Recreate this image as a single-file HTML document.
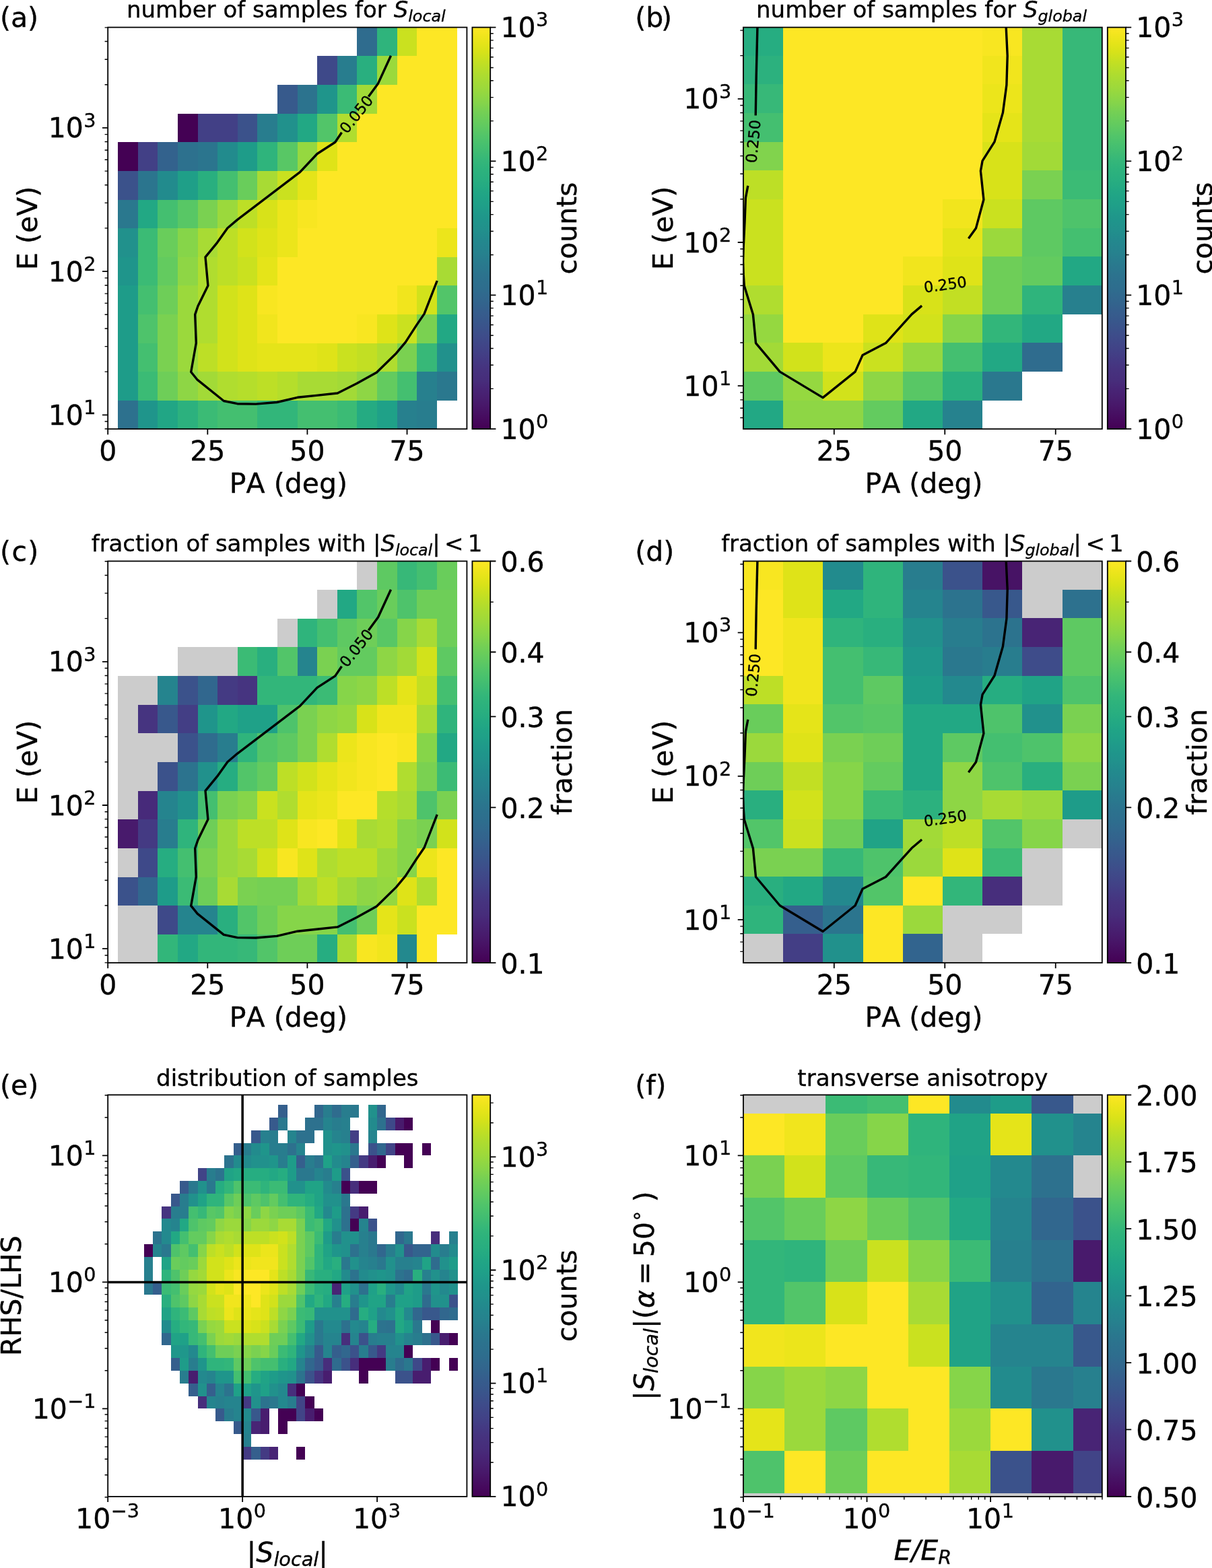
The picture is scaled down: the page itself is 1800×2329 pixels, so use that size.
<!DOCTYPE html>
<html lang="en">
<head>
<meta charset="utf-8">
<title>Figure: sample statistics and transverse anisotropy</title>
<style>
html,body{margin:0;padding:0;background:#fff;}
body{width:1800px;height:2329px;overflow:hidden;}
svg{display:block;}
svg text{font-family:"DejaVu Sans","Liberation Sans",sans-serif;fill:#000;font-kerning:none;stroke:#000;stroke-width:0.35px;stroke-linejoin:round;}
svg text.l{letter-spacing:0;}
</style>
</head>
<body>
<svg width="1800" height="2329" viewBox="0 0 1800 2329">
<rect width="1800" height="2329" fill="#fff"/>
<g id="panel-a">
<rect x="160.2" y="40.6" width="533.2" height="596.6" fill="#fff"/>
<g shape-rendering="crispEdges">
<rect x="530.48" y="40.66" width="29.62" height="42.64" fill="#2f6c8e"/>
<rect x="560.1" y="40.66" width="29.62" height="42.64" fill="#2fb47c"/>
<rect x="589.72" y="40.66" width="29.62" height="42.64" fill="#cae11f"/>
<rect x="619.34" y="40.66" width="59.24" height="42.64" fill="#fde725"/>
<rect x="471.23" y="83.3" width="29.62" height="42.64" fill="#3e4989"/>
<rect x="500.86" y="83.3" width="29.62" height="42.64" fill="#287d8e"/>
<rect x="530.48" y="83.3" width="29.62" height="42.64" fill="#29af7f"/>
<rect x="560.1" y="83.3" width="29.62" height="42.64" fill="#9bd93c"/>
<rect x="589.72" y="83.3" width="88.87" height="42.64" fill="#fde725"/>
<rect x="411.99" y="125.94" width="29.62" height="42.64" fill="#375a8c"/>
<rect x="441.61" y="125.94" width="29.62" height="42.64" fill="#2c738e"/>
<rect x="471.23" y="125.94" width="29.62" height="42.64" fill="#1f958b"/>
<rect x="500.86" y="125.94" width="29.62" height="42.64" fill="#3bbb75"/>
<rect x="530.48" y="125.94" width="29.62" height="42.64" fill="#a2da37"/>
<rect x="560.1" y="125.94" width="118.49" height="42.64" fill="#fde725"/>
<rect x="263.88" y="168.58" width="29.62" height="42.64" fill="#440154"/>
<rect x="293.5" y="168.58" width="59.24" height="42.64" fill="#424086"/>
<rect x="352.74" y="168.58" width="29.62" height="42.64" fill="#3b528b"/>
<rect x="382.37" y="168.58" width="29.62" height="42.64" fill="#287d8e"/>
<rect x="411.99" y="168.58" width="29.62" height="42.64" fill="#21918c"/>
<rect x="441.61" y="168.58" width="29.62" height="42.64" fill="#22a884"/>
<rect x="471.23" y="168.58" width="29.62" height="42.64" fill="#52c569"/>
<rect x="500.86" y="168.58" width="29.62" height="42.64" fill="#b0dd2f"/>
<rect x="530.48" y="168.58" width="148.11" height="42.64" fill="#fde725"/>
<rect x="175.01" y="211.22" width="29.62" height="42.64" fill="#440154"/>
<rect x="204.63" y="211.22" width="29.62" height="42.64" fill="#424086"/>
<rect x="234.26" y="211.22" width="29.62" height="42.64" fill="#33628d"/>
<rect x="263.88" y="211.22" width="29.62" height="42.64" fill="#2d718e"/>
<rect x="293.5" y="211.22" width="29.62" height="42.64" fill="#2b758e"/>
<rect x="323.12" y="211.22" width="29.62" height="42.64" fill="#228b8d"/>
<rect x="352.74" y="211.22" width="29.62" height="42.64" fill="#1e9c89"/>
<rect x="382.37" y="211.22" width="29.62" height="42.64" fill="#2fb47c"/>
<rect x="411.99" y="211.22" width="29.62" height="42.64" fill="#58c765"/>
<rect x="441.61" y="211.22" width="29.62" height="42.64" fill="#95d840"/>
<rect x="471.23" y="211.22" width="29.62" height="42.64" fill="#dfe318"/>
<rect x="500.86" y="211.22" width="177.73" height="42.64" fill="#fde725"/>
<rect x="175.01" y="253.86" width="29.62" height="42.64" fill="#3b528b"/>
<rect x="204.63" y="253.86" width="29.62" height="42.64" fill="#2b758e"/>
<rect x="234.26" y="253.86" width="29.62" height="42.64" fill="#228b8d"/>
<rect x="263.88" y="253.86" width="29.62" height="42.64" fill="#1f9f88"/>
<rect x="293.5" y="253.86" width="29.62" height="42.64" fill="#29af7f"/>
<rect x="323.12" y="253.86" width="29.62" height="42.64" fill="#44bf70"/>
<rect x="352.74" y="253.86" width="29.62" height="42.64" fill="#69cd5b"/>
<rect x="382.37" y="253.86" width="29.62" height="42.64" fill="#a8db34"/>
<rect x="411.99" y="253.86" width="29.62" height="42.64" fill="#cae11f"/>
<rect x="441.61" y="253.86" width="29.62" height="42.64" fill="#e5e419"/>
<rect x="471.23" y="253.86" width="207.36" height="42.64" fill="#fde725"/>
<rect x="175.01" y="296.5" width="29.62" height="42.64" fill="#2a788e"/>
<rect x="204.63" y="296.5" width="29.62" height="42.64" fill="#22a884"/>
<rect x="234.26" y="296.5" width="29.62" height="42.64" fill="#44bf70"/>
<rect x="263.88" y="296.5" width="29.62" height="42.64" fill="#58c765"/>
<rect x="293.5" y="296.5" width="29.62" height="42.64" fill="#7ad151"/>
<rect x="323.12" y="296.5" width="29.62" height="42.64" fill="#9bd93c"/>
<rect x="352.74" y="296.5" width="29.62" height="42.64" fill="#bddf26"/>
<rect x="382.37" y="296.5" width="29.62" height="42.64" fill="#d8e219"/>
<rect x="411.99" y="296.5" width="29.62" height="42.64" fill="#ece51b"/>
<rect x="441.61" y="296.5" width="29.62" height="42.64" fill="#f8e621"/>
<rect x="471.23" y="296.5" width="207.36" height="42.64" fill="#fde725"/>
<rect x="175.01" y="339.14" width="29.62" height="42.64" fill="#21918c"/>
<rect x="204.63" y="339.14" width="29.62" height="42.64" fill="#3bbb75"/>
<rect x="234.26" y="339.14" width="29.62" height="42.64" fill="#69cd5b"/>
<rect x="263.88" y="339.14" width="29.62" height="42.64" fill="#86d549"/>
<rect x="293.5" y="339.14" width="29.62" height="42.64" fill="#a8db34"/>
<rect x="323.12" y="339.14" width="29.62" height="42.64" fill="#bddf26"/>
<rect x="352.74" y="339.14" width="29.62" height="42.64" fill="#d2e21b"/>
<rect x="382.37" y="339.14" width="29.62" height="42.64" fill="#dfe318"/>
<rect x="411.99" y="339.14" width="29.62" height="42.64" fill="#ece51b"/>
<rect x="441.61" y="339.14" width="207.36" height="42.64" fill="#fde725"/>
<rect x="648.97" y="339.14" width="29.62" height="42.64" fill="#ece51b"/>
<rect x="175.01" y="381.78" width="29.62" height="42.64" fill="#1f958b"/>
<rect x="204.63" y="381.78" width="29.62" height="42.64" fill="#3bbb75"/>
<rect x="234.26" y="381.78" width="29.62" height="42.64" fill="#63cb5f"/>
<rect x="263.88" y="381.78" width="29.62" height="42.64" fill="#8ed645"/>
<rect x="293.5" y="381.78" width="29.62" height="42.64" fill="#b0dd2f"/>
<rect x="323.12" y="381.78" width="29.62" height="42.64" fill="#bddf26"/>
<rect x="352.74" y="381.78" width="29.62" height="42.64" fill="#cae11f"/>
<rect x="382.37" y="381.78" width="29.62" height="42.64" fill="#e5e419"/>
<rect x="411.99" y="381.78" width="236.98" height="42.64" fill="#fde725"/>
<rect x="648.97" y="381.78" width="29.62" height="42.64" fill="#a8db34"/>
<rect x="175.01" y="424.42" width="29.62" height="42.64" fill="#1e9c89"/>
<rect x="204.63" y="424.42" width="29.62" height="42.64" fill="#44bf70"/>
<rect x="234.26" y="424.42" width="29.62" height="42.64" fill="#6ece58"/>
<rect x="263.88" y="424.42" width="29.62" height="42.64" fill="#9bd93c"/>
<rect x="293.5" y="424.42" width="29.62" height="42.64" fill="#b0dd2f"/>
<rect x="323.12" y="424.42" width="29.62" height="42.64" fill="#d2e21b"/>
<rect x="352.74" y="424.42" width="29.62" height="42.64" fill="#dfe318"/>
<rect x="382.37" y="424.42" width="29.62" height="42.64" fill="#f8e621"/>
<rect x="411.99" y="424.42" width="177.73" height="42.64" fill="#fde725"/>
<rect x="589.72" y="424.42" width="29.62" height="42.64" fill="#f1e51d"/>
<rect x="619.34" y="424.42" width="29.62" height="42.64" fill="#d2e21b"/>
<rect x="648.97" y="424.42" width="29.62" height="42.64" fill="#52c569"/>
<rect x="175.01" y="467.06" width="29.62" height="42.64" fill="#1e9c89"/>
<rect x="204.63" y="467.06" width="29.62" height="42.64" fill="#4ec36b"/>
<rect x="234.26" y="467.06" width="29.62" height="42.64" fill="#7ad151"/>
<rect x="263.88" y="467.06" width="29.62" height="42.64" fill="#9bd93c"/>
<rect x="293.5" y="467.06" width="29.62" height="42.64" fill="#b0dd2f"/>
<rect x="323.12" y="467.06" width="29.62" height="42.64" fill="#d2e21b"/>
<rect x="352.74" y="467.06" width="29.62" height="42.64" fill="#dfe318"/>
<rect x="382.37" y="467.06" width="29.62" height="42.64" fill="#f1e51d"/>
<rect x="411.99" y="467.06" width="118.49" height="42.64" fill="#fde725"/>
<rect x="530.48" y="467.06" width="29.62" height="42.64" fill="#f8e621"/>
<rect x="560.1" y="467.06" width="29.62" height="42.64" fill="#dfe318"/>
<rect x="589.72" y="467.06" width="29.62" height="42.64" fill="#cae11f"/>
<rect x="619.34" y="467.06" width="29.62" height="42.64" fill="#7ad151"/>
<rect x="648.97" y="467.06" width="29.62" height="42.64" fill="#22a884"/>
<rect x="175.01" y="509.7" width="29.62" height="42.64" fill="#1e9c89"/>
<rect x="204.63" y="509.7" width="29.62" height="42.64" fill="#44bf70"/>
<rect x="234.26" y="509.7" width="29.62" height="42.64" fill="#7ad151"/>
<rect x="263.88" y="509.7" width="29.62" height="42.64" fill="#9bd93c"/>
<rect x="293.5" y="509.7" width="29.62" height="42.64" fill="#bddf26"/>
<rect x="323.12" y="509.7" width="29.62" height="42.64" fill="#d2e21b"/>
<rect x="352.74" y="509.7" width="29.62" height="42.64" fill="#dfe318"/>
<rect x="382.37" y="509.7" width="88.87" height="42.64" fill="#e5e419"/>
<rect x="471.23" y="509.7" width="29.62" height="42.64" fill="#dfe318"/>
<rect x="500.86" y="509.7" width="29.62" height="42.64" fill="#cae11f"/>
<rect x="530.48" y="509.7" width="29.62" height="42.64" fill="#c2df23"/>
<rect x="560.1" y="509.7" width="29.62" height="42.64" fill="#b0dd2f"/>
<rect x="589.72" y="509.7" width="29.62" height="42.64" fill="#7ad151"/>
<rect x="619.34" y="509.7" width="29.62" height="42.64" fill="#37b878"/>
<rect x="648.97" y="509.7" width="29.62" height="42.64" fill="#21918c"/>
<rect x="175.01" y="552.34" width="29.62" height="42.64" fill="#1e9c89"/>
<rect x="204.63" y="552.34" width="29.62" height="42.64" fill="#3bbb75"/>
<rect x="234.26" y="552.34" width="29.62" height="42.64" fill="#6ece58"/>
<rect x="263.88" y="552.34" width="29.62" height="42.64" fill="#8ed645"/>
<rect x="293.5" y="552.34" width="29.62" height="42.64" fill="#a2da37"/>
<rect x="323.12" y="552.34" width="29.62" height="42.64" fill="#b0dd2f"/>
<rect x="352.74" y="552.34" width="29.62" height="42.64" fill="#b5de2b"/>
<rect x="382.37" y="552.34" width="29.62" height="42.64" fill="#bddf26"/>
<rect x="411.99" y="552.34" width="29.62" height="42.64" fill="#b5de2b"/>
<rect x="441.61" y="552.34" width="59.24" height="42.64" fill="#a8db34"/>
<rect x="500.86" y="552.34" width="29.62" height="42.64" fill="#a2da37"/>
<rect x="530.48" y="552.34" width="29.62" height="42.64" fill="#8ed645"/>
<rect x="560.1" y="552.34" width="29.62" height="42.64" fill="#63cb5f"/>
<rect x="589.72" y="552.34" width="29.62" height="42.64" fill="#44bf70"/>
<rect x="619.34" y="552.34" width="29.62" height="42.64" fill="#27808e"/>
<rect x="648.97" y="552.34" width="29.62" height="42.64" fill="#2a788e"/>
<rect x="175.01" y="594.98" width="29.62" height="42.22" fill="#2d718e"/>
<rect x="204.63" y="594.98" width="29.62" height="42.22" fill="#1f958b"/>
<rect x="234.26" y="594.98" width="29.62" height="42.22" fill="#21a685"/>
<rect x="263.88" y="594.98" width="29.62" height="42.22" fill="#2cb17e"/>
<rect x="293.5" y="594.98" width="29.62" height="42.22" fill="#3bbb75"/>
<rect x="323.12" y="594.98" width="59.24" height="42.22" fill="#44bf70"/>
<rect x="382.37" y="594.98" width="59.24" height="42.22" fill="#32b67a"/>
<rect x="441.61" y="594.98" width="59.24" height="42.22" fill="#44bf70"/>
<rect x="500.86" y="594.98" width="29.62" height="42.22" fill="#3bbb75"/>
<rect x="530.48" y="594.98" width="29.62" height="42.22" fill="#25ab82"/>
<rect x="560.1" y="594.98" width="29.62" height="42.22" fill="#1fa188"/>
<rect x="589.72" y="594.98" width="29.62" height="42.22" fill="#27808e"/>
<rect x="619.34" y="594.98" width="29.62" height="42.22" fill="#287d8e"/>
</g>
<clipPath id="clip-a"><rect x="160.2" y="40.6" width="533.2" height="596.6"/></clipPath>
<g clip-path="url(#clip-a)">
<path d="M580.5 82.8L561.6 123.9L547.3 143.4" stroke="#000" stroke-width="3.4" fill="none" stroke-linejoin="round" stroke-linecap="butt"/>
<path d="M507.5 196.8L497.7 211.2L471 228.5L445.5 255.7L352.5 326.4L337.9 338.8L322.6 360.3L305 381.8L308.9 424.2L293.9 454.8L289.7 467.1L291.3 509.5L283.7 552.5L293.2 564.2L332.3 595.5L352.5 599.7L379.9 600.1L411.2 597.5L441.8 590.3L470 587.4L501.3 584L530 569.6L559.3 553.3L588.5 524.7L602.2 508.3L618.5 483.1L630.1 466.1L649.2 417" stroke="#000" stroke-width="3.4" fill="none" stroke-linejoin="round" stroke-linecap="butt"/>
</g>
<text transform="translate(529 169.5) rotate(-51.3)" y="8.18" font-size="22.4" text-anchor="middle">0.050</text>
<rect x="160.2" y="40.6" width="533.2" height="596.6" fill="none" stroke="#000" stroke-width="1.8"/>
<path d="M160.2 637.2v8.2M308.31 637.2v8.2M456.42 637.2v8.2M604.53 637.2v8.2" stroke="#000" stroke-width="1.8" fill="none"/>
<text x="160.2" y="684.4" font-size="41" text-anchor="middle">0</text>
<text x="308.31" y="684.4" font-size="41" text-anchor="middle">25</text>
<text x="456.42" y="684.4" font-size="41" text-anchor="middle">50</text>
<text x="604.53" y="684.4" font-size="41" text-anchor="middle">75</text>
<path d="M160.2 616.3h-8.2M160.2 403.1h-8.2M160.2 189.9h-8.2" stroke="#000" stroke-width="1.8" fill="none"/>
<path d="M160.2 636.96h-4.6M160.2 626.06h-4.6M160.2 552.12h-4.6M160.2 514.58h-4.6M160.2 487.94h-4.6M160.2 467.28h-4.6M160.2 450.4h-4.6M160.2 436.13h-4.6M160.2 423.76h-4.6M160.2 412.86h-4.6M160.2 338.92h-4.6M160.2 301.38h-4.6M160.2 274.74h-4.6M160.2 254.08h-4.6M160.2 237.2h-4.6M160.2 222.93h-4.6M160.2 210.56h-4.6M160.2 199.66h-4.6M160.2 125.72h-4.6M160.2 88.18h-4.6M160.2 61.54h-4.6M160.2 40.88h-4.6" stroke="#000" stroke-width="1.4" fill="none"/>
<text x="142.6" y="630.8" font-size="41" text-anchor="end">10<tspan dy="-15.8" dx="0.5" font-size="28.7">1</tspan></text>
<text x="142.6" y="417.6" font-size="41" text-anchor="end">10<tspan dy="-15.8" dx="0.5" font-size="28.7">2</tspan></text>
<text x="142.6" y="204.4" font-size="41" text-anchor="end">10<tspan dy="-15.8" dx="0.5" font-size="28.7">3</tspan></text>
<text x="428.4" y="732" font-size="41" text-anchor="middle" class="l">PA (deg)</text>
<text transform="translate(54.8 338.9) rotate(-90)" font-size="41" text-anchor="middle">E (eV)</text>
<text x="424.8" y="26.1" font-size="34" text-anchor="middle">number of samples for <tspan font-style="italic">S</tspan><tspan font-style="italic" font-size="23.8" dy="6">local</tspan></text>
<text x="0" y="40.1" font-size="41" text-anchor="start" class="l">(a)</text>
<linearGradient id="ga" x1="0" y1="0" x2="0" y2="1"><stop offset="0" stop-color="#fde725"/><stop offset="0.02" stop-color="#f1e51d"/><stop offset="0.04" stop-color="#e5e419"/><stop offset="0.06" stop-color="#d8e219"/><stop offset="0.08" stop-color="#c8e020"/><stop offset="0.1" stop-color="#bade28"/><stop offset="0.12" stop-color="#addc30"/><stop offset="0.15" stop-color="#9dd93b"/><stop offset="0.17" stop-color="#90d743"/><stop offset="0.19" stop-color="#84d44b"/><stop offset="0.21" stop-color="#75d054"/><stop offset="0.23" stop-color="#69cd5b"/><stop offset="0.25" stop-color="#5ec962"/><stop offset="0.27" stop-color="#52c569"/><stop offset="0.29" stop-color="#48c16e"/><stop offset="0.31" stop-color="#3fbc73"/><stop offset="0.33" stop-color="#35b779"/><stop offset="0.35" stop-color="#2eb37c"/><stop offset="0.38" stop-color="#28ae80"/><stop offset="0.4" stop-color="#23a983"/><stop offset="0.42" stop-color="#20a486"/><stop offset="0.44" stop-color="#1fa088"/><stop offset="0.46" stop-color="#1f9a8a"/><stop offset="0.48" stop-color="#1f958b"/><stop offset="0.5" stop-color="#21918c"/><stop offset="0.52" stop-color="#228b8d"/><stop offset="0.54" stop-color="#24868e"/><stop offset="0.56" stop-color="#26828e"/><stop offset="0.58" stop-color="#287c8e"/><stop offset="0.6" stop-color="#2a778e"/><stop offset="0.62" stop-color="#2c728e"/><stop offset="0.65" stop-color="#2e6d8e"/><stop offset="0.67" stop-color="#31688e"/><stop offset="0.69" stop-color="#33638d"/><stop offset="0.71" stop-color="#365d8d"/><stop offset="0.73" stop-color="#38588c"/><stop offset="0.75" stop-color="#3b528b"/><stop offset="0.77" stop-color="#3e4c8a"/><stop offset="0.79" stop-color="#404688"/><stop offset="0.81" stop-color="#424086"/><stop offset="0.83" stop-color="#443983"/><stop offset="0.85" stop-color="#46337f"/><stop offset="0.88" stop-color="#472d7b"/><stop offset="0.9" stop-color="#482576"/><stop offset="0.92" stop-color="#481f70"/><stop offset="0.94" stop-color="#48186a"/><stop offset="0.96" stop-color="#471063"/><stop offset="0.98" stop-color="#46085c"/><stop offset="1" stop-color="#440154"/></linearGradient>
<rect x="701.4" y="40.6" width="26.8" height="596.6" fill="url(#ga)"/>
<rect x="701.4" y="40.6" width="26.8" height="596.6" fill="none" stroke="#000" stroke-width="1.8"/>
<path d="M728.2 637.2h8.2M728.2 438.33h8.2M728.2 239.47h8.2M728.2 40.6h8.2" stroke="#000" stroke-width="1.8" fill="none"/>
<path d="M728.2 577.34h4.6M728.2 542.32h4.6M728.2 517.47h4.6M728.2 498.2h4.6M728.2 482.45h4.6M728.2 469.14h4.6M728.2 457.61h4.6M728.2 447.43h4.6M728.2 378.47h4.6M728.2 343.45h4.6M728.2 318.6h4.6M728.2 299.33h4.6M728.2 283.58h4.6M728.2 270.27h4.6M728.2 258.74h4.6M728.2 248.57h4.6M728.2 179.6h4.6M728.2 144.58h4.6M728.2 119.74h4.6M728.2 100.46h4.6M728.2 84.72h4.6M728.2 71.4h4.6M728.2 59.87h4.6M728.2 49.7h4.6" stroke="#000" stroke-width="1.4" fill="none"/>
<text x="743.4" y="651.7" font-size="41" text-anchor="start">10<tspan dy="-15.8" dx="0.5" font-size="28.7">0</tspan></text>
<text x="743.4" y="452.83" font-size="41" text-anchor="start">10<tspan dy="-15.8" dx="0.5" font-size="28.7">1</tspan></text>
<text x="743.4" y="253.97" font-size="41" text-anchor="start">10<tspan dy="-15.8" dx="0.5" font-size="28.7">2</tspan></text>
<text x="743.4" y="55.1" font-size="41" text-anchor="start">10<tspan dy="-15.8" dx="0.5" font-size="28.7">3</tspan></text>
<text transform="translate(856 338.9) rotate(-90)" font-size="41" text-anchor="middle">counts</text>
</g>
<g id="panel-b">
<rect x="1103.9" y="40.6" width="532.9" height="596.6" fill="#fff"/>
<g shape-rendering="crispEdges">
<rect x="1103.9" y="40.6" width="59.21" height="42.24" fill="#26ad81"/>
<rect x="1163.11" y="40.6" width="296.06" height="42.24" fill="#fde725"/>
<rect x="1459.17" y="40.6" width="59.21" height="42.24" fill="#f8e621"/>
<rect x="1518.38" y="40.6" width="59.21" height="42.24" fill="#a8db34"/>
<rect x="1577.59" y="40.6" width="59.21" height="42.24" fill="#37b878"/>
<rect x="1103.9" y="82.84" width="59.21" height="42.64" fill="#2cb17e"/>
<rect x="1163.11" y="82.84" width="296.06" height="42.64" fill="#fde725"/>
<rect x="1459.17" y="82.84" width="59.21" height="42.64" fill="#f1e51d"/>
<rect x="1518.38" y="82.84" width="59.21" height="42.64" fill="#a8db34"/>
<rect x="1577.59" y="82.84" width="59.21" height="42.64" fill="#37b878"/>
<rect x="1103.9" y="125.48" width="59.21" height="42.64" fill="#37b878"/>
<rect x="1163.11" y="125.48" width="296.06" height="42.64" fill="#fde725"/>
<rect x="1459.17" y="125.48" width="59.21" height="42.64" fill="#ece51b"/>
<rect x="1518.38" y="125.48" width="59.21" height="42.64" fill="#a8db34"/>
<rect x="1577.59" y="125.48" width="59.21" height="42.64" fill="#37b878"/>
<rect x="1103.9" y="168.12" width="59.21" height="42.64" fill="#44bf70"/>
<rect x="1163.11" y="168.12" width="296.06" height="42.64" fill="#fde725"/>
<rect x="1459.17" y="168.12" width="59.21" height="42.64" fill="#e5e419"/>
<rect x="1518.38" y="168.12" width="59.21" height="42.64" fill="#a8db34"/>
<rect x="1577.59" y="168.12" width="59.21" height="42.64" fill="#37b878"/>
<rect x="1103.9" y="210.76" width="59.21" height="42.64" fill="#81d34d"/>
<rect x="1163.11" y="210.76" width="296.06" height="42.64" fill="#fde725"/>
<rect x="1459.17" y="210.76" width="59.21" height="42.64" fill="#d8e219"/>
<rect x="1518.38" y="210.76" width="59.21" height="42.64" fill="#a2da37"/>
<rect x="1577.59" y="210.76" width="59.21" height="42.64" fill="#37b878"/>
<rect x="1103.9" y="253.4" width="59.21" height="42.64" fill="#bddf26"/>
<rect x="1163.11" y="253.4" width="296.06" height="42.64" fill="#fde725"/>
<rect x="1459.17" y="253.4" width="59.21" height="42.64" fill="#d8e219"/>
<rect x="1518.38" y="253.4" width="59.21" height="42.64" fill="#7ad151"/>
<rect x="1577.59" y="253.4" width="59.21" height="42.64" fill="#3bbb75"/>
<rect x="1103.9" y="296.04" width="59.21" height="42.64" fill="#cae11f"/>
<rect x="1163.11" y="296.04" width="236.84" height="42.64" fill="#fde725"/>
<rect x="1399.96" y="296.04" width="59.21" height="42.64" fill="#f1e51d"/>
<rect x="1459.17" y="296.04" width="59.21" height="42.64" fill="#cae11f"/>
<rect x="1518.38" y="296.04" width="59.21" height="42.64" fill="#5ec962"/>
<rect x="1577.59" y="296.04" width="59.21" height="42.64" fill="#4ec36b"/>
<rect x="1103.9" y="338.68" width="59.21" height="42.64" fill="#cae11f"/>
<rect x="1163.11" y="338.68" width="236.84" height="42.64" fill="#fde725"/>
<rect x="1399.96" y="338.68" width="59.21" height="42.64" fill="#e5e419"/>
<rect x="1459.17" y="338.68" width="59.21" height="42.64" fill="#9bd93c"/>
<rect x="1518.38" y="338.68" width="59.21" height="42.64" fill="#5ec962"/>
<rect x="1577.59" y="338.68" width="59.21" height="42.64" fill="#44bf70"/>
<rect x="1103.9" y="381.32" width="59.21" height="42.64" fill="#cae11f"/>
<rect x="1163.11" y="381.32" width="177.63" height="42.64" fill="#fde725"/>
<rect x="1340.74" y="381.32" width="59.21" height="42.64" fill="#f1e51d"/>
<rect x="1399.96" y="381.32" width="59.21" height="42.64" fill="#dfe318"/>
<rect x="1459.17" y="381.32" width="59.21" height="42.64" fill="#6ece58"/>
<rect x="1518.38" y="381.32" width="59.21" height="42.64" fill="#63cb5f"/>
<rect x="1577.59" y="381.32" width="59.21" height="42.64" fill="#22a884"/>
<rect x="1103.9" y="423.96" width="59.21" height="42.64" fill="#b0dd2f"/>
<rect x="1163.11" y="423.96" width="177.63" height="42.64" fill="#fde725"/>
<rect x="1340.74" y="423.96" width="59.21" height="42.64" fill="#d8e219"/>
<rect x="1399.96" y="423.96" width="59.21" height="42.64" fill="#c2df23"/>
<rect x="1459.17" y="423.96" width="59.21" height="42.64" fill="#6ece58"/>
<rect x="1518.38" y="423.96" width="59.21" height="42.64" fill="#2fb47c"/>
<rect x="1577.59" y="423.96" width="59.21" height="42.64" fill="#27808e"/>
<rect x="1103.9" y="466.6" width="59.21" height="42.64" fill="#95d840"/>
<rect x="1163.11" y="466.6" width="118.42" height="42.64" fill="#fde725"/>
<rect x="1281.53" y="466.6" width="59.21" height="42.64" fill="#dfe318"/>
<rect x="1340.74" y="466.6" width="59.21" height="42.64" fill="#d2e21b"/>
<rect x="1399.96" y="466.6" width="59.21" height="42.64" fill="#86d549"/>
<rect x="1459.17" y="466.6" width="59.21" height="42.64" fill="#32b67a"/>
<rect x="1518.38" y="466.6" width="59.21" height="42.64" fill="#22a884"/>
<rect x="1103.9" y="509.24" width="59.21" height="42.64" fill="#a2da37"/>
<rect x="1163.11" y="509.24" width="59.21" height="42.64" fill="#d2e21b"/>
<rect x="1222.32" y="509.24" width="59.21" height="42.64" fill="#ece51b"/>
<rect x="1281.53" y="509.24" width="59.21" height="42.64" fill="#cae11f"/>
<rect x="1340.74" y="509.24" width="59.21" height="42.64" fill="#95d840"/>
<rect x="1399.96" y="509.24" width="59.21" height="42.64" fill="#44bf70"/>
<rect x="1459.17" y="509.24" width="59.21" height="42.64" fill="#22a884"/>
<rect x="1518.38" y="509.24" width="59.21" height="42.64" fill="#2f6c8e"/>
<rect x="1103.9" y="551.88" width="59.21" height="42.64" fill="#5ec962"/>
<rect x="1163.11" y="551.88" width="59.21" height="42.64" fill="#95d840"/>
<rect x="1222.32" y="551.88" width="59.21" height="42.64" fill="#d2e21b"/>
<rect x="1281.53" y="551.88" width="59.21" height="42.64" fill="#8ed645"/>
<rect x="1340.74" y="551.88" width="59.21" height="42.64" fill="#58c765"/>
<rect x="1399.96" y="551.88" width="59.21" height="42.64" fill="#29af7f"/>
<rect x="1459.17" y="551.88" width="59.21" height="42.64" fill="#2a788e"/>
<rect x="1103.9" y="594.52" width="59.21" height="42.64" fill="#22a884"/>
<rect x="1163.11" y="594.52" width="118.42" height="42.64" fill="#8ed645"/>
<rect x="1281.53" y="594.52" width="59.21" height="42.64" fill="#63cb5f"/>
<rect x="1340.74" y="594.52" width="59.21" height="42.64" fill="#22a884"/>
<rect x="1399.96" y="594.52" width="59.21" height="42.64" fill="#26828e"/>
</g>
<clipPath id="clip-b"><rect x="1103.9" y="40.6" width="532.9" height="596.6"/></clipPath>
<g clip-path="url(#clip-b)">
<path d="M1124.9 40.6L1123.2 112.4L1122.2 171.5" stroke="#000" stroke-width="3.4" fill="none" stroke-linejoin="round" stroke-linecap="butt"/>
<path d="M1110.8 275.9L1107.4 293.7L1106 330L1104.2 366.7L1103.6 388L1104.2 407.9L1105.3 424.4L1118.4 467L1122.5 509.6L1158.2 552.1L1222.1 590.6L1270.1 552.1L1281.1 527.4L1315.5 509.6L1354 466.9L1369.1 454.1" stroke="#000" stroke-width="3.4" fill="none" stroke-linejoin="round" stroke-linecap="butt"/>
<path d="M1438.4 354.3L1449.4 339.1L1460.9 296.5L1456.4 253.9L1459.1 238.8L1477 210.6L1489.4 167.4L1494.9 126.2L1496.2 82.9L1494.2 40.6" stroke="#000" stroke-width="3.4" fill="none" stroke-linejoin="round" stroke-linecap="butt"/>
</g>
<text transform="translate(1118.4 210) rotate(-84.3)" y="8.18" font-size="22.4" text-anchor="middle">0.250</text>
<text transform="translate(1403.8 422.3) rotate(-8)" y="8.18" font-size="22.4" text-anchor="middle">0.250</text>
<rect x="1103.9" y="40.6" width="532.9" height="596.6" fill="none" stroke="#000" stroke-width="1.8"/>
<path d="M1238.77 637.2v8.2M1403.25 637.2v8.2M1567.72 637.2v8.2" stroke="#000" stroke-width="1.8" fill="none"/>
<text x="1238.77" y="684.4" font-size="41" text-anchor="middle">25</text>
<text x="1403.25" y="684.4" font-size="41" text-anchor="middle">50</text>
<text x="1567.72" y="684.4" font-size="41" text-anchor="middle">75</text>
<path d="M1103.9 573.2h-8.2M1103.9 360h-8.2M1103.9 146.8h-8.2" stroke="#000" stroke-width="1.8" fill="none"/>
<path d="M1103.9 620.5h-4.6M1103.9 606.23h-4.6M1103.9 593.86h-4.6M1103.9 582.96h-4.6M1103.9 509.02h-4.6M1103.9 471.48h-4.6M1103.9 444.84h-4.6M1103.9 424.18h-4.6M1103.9 407.3h-4.6M1103.9 393.03h-4.6M1103.9 380.66h-4.6M1103.9 369.76h-4.6M1103.9 295.82h-4.6M1103.9 258.28h-4.6M1103.9 231.64h-4.6M1103.9 210.98h-4.6M1103.9 194.1h-4.6M1103.9 179.83h-4.6M1103.9 167.46h-4.6M1103.9 156.56h-4.6M1103.9 82.62h-4.6M1103.9 45.08h-4.6" stroke="#000" stroke-width="1.4" fill="none"/>
<text x="1086.3" y="587.7" font-size="41" text-anchor="end">10<tspan dy="-15.8" dx="0.5" font-size="28.7">1</tspan></text>
<text x="1086.3" y="374.5" font-size="41" text-anchor="end">10<tspan dy="-15.8" dx="0.5" font-size="28.7">2</tspan></text>
<text x="1086.3" y="161.3" font-size="41" text-anchor="end">10<tspan dy="-15.8" dx="0.5" font-size="28.7">3</tspan></text>
<text x="1371.95" y="732" font-size="41" text-anchor="middle" class="l">PA (deg)</text>
<text transform="translate(999 338.9) rotate(-90)" font-size="41" text-anchor="middle">E (eV)</text>
<text x="1368.55" y="26.1" font-size="34" text-anchor="middle">number of samples for <tspan font-style="italic">S</tspan><tspan font-style="italic" font-size="23.8" dy="6">global</tspan></text>
<text x="943.2" y="40.1" font-size="41" text-anchor="start" class="l">(b<tspan dx="-3.3">)</tspan></text>
<linearGradient id="gb" x1="0" y1="0" x2="0" y2="1"><stop offset="0" stop-color="#fde725"/><stop offset="0.02" stop-color="#f1e51d"/><stop offset="0.04" stop-color="#e5e419"/><stop offset="0.06" stop-color="#d8e219"/><stop offset="0.08" stop-color="#c8e020"/><stop offset="0.1" stop-color="#bade28"/><stop offset="0.12" stop-color="#addc30"/><stop offset="0.15" stop-color="#9dd93b"/><stop offset="0.17" stop-color="#90d743"/><stop offset="0.19" stop-color="#84d44b"/><stop offset="0.21" stop-color="#75d054"/><stop offset="0.23" stop-color="#69cd5b"/><stop offset="0.25" stop-color="#5ec962"/><stop offset="0.27" stop-color="#52c569"/><stop offset="0.29" stop-color="#48c16e"/><stop offset="0.31" stop-color="#3fbc73"/><stop offset="0.33" stop-color="#35b779"/><stop offset="0.35" stop-color="#2eb37c"/><stop offset="0.38" stop-color="#28ae80"/><stop offset="0.4" stop-color="#23a983"/><stop offset="0.42" stop-color="#20a486"/><stop offset="0.44" stop-color="#1fa088"/><stop offset="0.46" stop-color="#1f9a8a"/><stop offset="0.48" stop-color="#1f958b"/><stop offset="0.5" stop-color="#21918c"/><stop offset="0.52" stop-color="#228b8d"/><stop offset="0.54" stop-color="#24868e"/><stop offset="0.56" stop-color="#26828e"/><stop offset="0.58" stop-color="#287c8e"/><stop offset="0.6" stop-color="#2a778e"/><stop offset="0.62" stop-color="#2c728e"/><stop offset="0.65" stop-color="#2e6d8e"/><stop offset="0.67" stop-color="#31688e"/><stop offset="0.69" stop-color="#33638d"/><stop offset="0.71" stop-color="#365d8d"/><stop offset="0.73" stop-color="#38588c"/><stop offset="0.75" stop-color="#3b528b"/><stop offset="0.77" stop-color="#3e4c8a"/><stop offset="0.79" stop-color="#404688"/><stop offset="0.81" stop-color="#424086"/><stop offset="0.83" stop-color="#443983"/><stop offset="0.85" stop-color="#46337f"/><stop offset="0.88" stop-color="#472d7b"/><stop offset="0.9" stop-color="#482576"/><stop offset="0.92" stop-color="#481f70"/><stop offset="0.94" stop-color="#48186a"/><stop offset="0.96" stop-color="#471063"/><stop offset="0.98" stop-color="#46085c"/><stop offset="1" stop-color="#440154"/></linearGradient>
<rect x="1644.8" y="40.6" width="27.2" height="596.6" fill="url(#gb)"/>
<rect x="1644.8" y="40.6" width="27.2" height="596.6" fill="none" stroke="#000" stroke-width="1.8"/>
<path d="M1672 637.2h8.2M1672 438.33h8.2M1672 239.47h8.2M1672 40.6h8.2" stroke="#000" stroke-width="1.8" fill="none"/>
<path d="M1672 577.34h4.6M1672 542.32h4.6M1672 517.47h4.6M1672 498.2h4.6M1672 482.45h4.6M1672 469.14h4.6M1672 457.61h4.6M1672 447.43h4.6M1672 378.47h4.6M1672 343.45h4.6M1672 318.6h4.6M1672 299.33h4.6M1672 283.58h4.6M1672 270.27h4.6M1672 258.74h4.6M1672 248.57h4.6M1672 179.6h4.6M1672 144.58h4.6M1672 119.74h4.6M1672 100.46h4.6M1672 84.72h4.6M1672 71.4h4.6M1672 59.87h4.6M1672 49.7h4.6" stroke="#000" stroke-width="1.4" fill="none"/>
<text x="1687.2" y="651.7" font-size="41" text-anchor="start">10<tspan dy="-15.8" dx="0.5" font-size="28.7">0</tspan></text>
<text x="1687.2" y="452.83" font-size="41" text-anchor="start">10<tspan dy="-15.8" dx="0.5" font-size="28.7">1</tspan></text>
<text x="1687.2" y="253.97" font-size="41" text-anchor="start">10<tspan dy="-15.8" dx="0.5" font-size="28.7">2</tspan></text>
<text x="1687.2" y="55.1" font-size="41" text-anchor="start">10<tspan dy="-15.8" dx="0.5" font-size="28.7">3</tspan></text>
<text transform="translate(1799.8 338.9) rotate(-90)" font-size="41" text-anchor="middle">counts</text>
</g>
<g id="panel-c">
<rect x="160.2" y="833.5" width="533.2" height="596.6" fill="#fff"/>
<g shape-rendering="crispEdges">
<rect x="530.48" y="833.56" width="29.62" height="42.64" fill="#cccccc"/>
<rect x="560.1" y="833.56" width="29.62" height="42.64" fill="#5ec962"/>
<rect x="589.72" y="833.56" width="29.62" height="42.64" fill="#37b878"/>
<rect x="619.34" y="833.56" width="29.62" height="42.64" fill="#44bf70"/>
<rect x="648.97" y="833.56" width="29.62" height="42.64" fill="#69cd5b"/>
<rect x="471.23" y="876.2" width="29.62" height="42.64" fill="#cccccc"/>
<rect x="500.86" y="876.2" width="29.62" height="42.64" fill="#22a884"/>
<rect x="530.48" y="876.2" width="29.62" height="42.64" fill="#52c569"/>
<rect x="560.1" y="876.2" width="29.62" height="42.64" fill="#69cd5b"/>
<rect x="589.72" y="876.2" width="29.62" height="42.64" fill="#4ec36b"/>
<rect x="619.34" y="876.2" width="59.24" height="42.64" fill="#6ece58"/>
<rect x="411.99" y="918.84" width="29.62" height="42.64" fill="#cccccc"/>
<rect x="441.61" y="918.84" width="29.62" height="42.64" fill="#2fb47c"/>
<rect x="471.23" y="918.84" width="29.62" height="42.64" fill="#44bf70"/>
<rect x="500.86" y="918.84" width="29.62" height="42.64" fill="#5ec962"/>
<rect x="530.48" y="918.84" width="29.62" height="42.64" fill="#6ece58"/>
<rect x="560.1" y="918.84" width="29.62" height="42.64" fill="#58c765"/>
<rect x="589.72" y="918.84" width="29.62" height="42.64" fill="#86d549"/>
<rect x="619.34" y="918.84" width="29.62" height="42.64" fill="#a8db34"/>
<rect x="648.97" y="918.84" width="29.62" height="42.64" fill="#6ece58"/>
<rect x="263.88" y="961.48" width="88.87" height="42.64" fill="#cccccc"/>
<rect x="352.74" y="961.48" width="29.62" height="42.64" fill="#3bbb75"/>
<rect x="382.37" y="961.48" width="29.62" height="42.64" fill="#29af7f"/>
<rect x="411.99" y="961.48" width="29.62" height="42.64" fill="#52c569"/>
<rect x="441.61" y="961.48" width="29.62" height="42.64" fill="#25848e"/>
<rect x="471.23" y="961.48" width="29.62" height="42.64" fill="#7ad151"/>
<rect x="500.86" y="961.48" width="59.24" height="42.64" fill="#63cb5f"/>
<rect x="560.1" y="961.48" width="29.62" height="42.64" fill="#8ed645"/>
<rect x="589.72" y="961.48" width="29.62" height="42.64" fill="#a2da37"/>
<rect x="619.34" y="961.48" width="29.62" height="42.64" fill="#d2e21b"/>
<rect x="648.97" y="961.48" width="29.62" height="42.64" fill="#5ec962"/>
<rect x="175.01" y="1004.12" width="59.24" height="42.64" fill="#cccccc"/>
<rect x="234.26" y="1004.12" width="29.62" height="42.64" fill="#25848e"/>
<rect x="263.88" y="1004.12" width="29.62" height="42.64" fill="#3b528b"/>
<rect x="293.5" y="1004.12" width="29.62" height="42.64" fill="#31678e"/>
<rect x="323.12" y="1004.12" width="29.62" height="42.64" fill="#443a83"/>
<rect x="352.74" y="1004.12" width="29.62" height="42.64" fill="#463480"/>
<rect x="382.37" y="1004.12" width="88.87" height="42.64" fill="#32b67a"/>
<rect x="471.23" y="1004.12" width="29.62" height="42.64" fill="#3bbb75"/>
<rect x="500.86" y="1004.12" width="29.62" height="42.64" fill="#86d549"/>
<rect x="530.48" y="1004.12" width="29.62" height="42.64" fill="#8ed645"/>
<rect x="560.1" y="1004.12" width="29.62" height="42.64" fill="#bddf26"/>
<rect x="589.72" y="1004.12" width="29.62" height="42.64" fill="#e5e419"/>
<rect x="619.34" y="1004.12" width="29.62" height="42.64" fill="#c2df23"/>
<rect x="648.97" y="1004.12" width="29.62" height="42.64" fill="#44bf70"/>
<rect x="175.01" y="1046.76" width="29.62" height="42.64" fill="#cccccc"/>
<rect x="204.63" y="1046.76" width="29.62" height="42.64" fill="#463480"/>
<rect x="234.26" y="1046.76" width="29.62" height="42.64" fill="#38588c"/>
<rect x="263.88" y="1046.76" width="29.62" height="42.64" fill="#433e85"/>
<rect x="293.5" y="1046.76" width="29.62" height="42.64" fill="#1f958b"/>
<rect x="323.12" y="1046.76" width="29.62" height="42.64" fill="#22a884"/>
<rect x="352.74" y="1046.76" width="59.24" height="42.64" fill="#1fa188"/>
<rect x="411.99" y="1046.76" width="29.62" height="42.64" fill="#4ec36b"/>
<rect x="441.61" y="1046.76" width="29.62" height="42.64" fill="#7ad151"/>
<rect x="471.23" y="1046.76" width="29.62" height="42.64" fill="#8ed645"/>
<rect x="500.86" y="1046.76" width="29.62" height="42.64" fill="#95d840"/>
<rect x="530.48" y="1046.76" width="29.62" height="42.64" fill="#d8e219"/>
<rect x="560.1" y="1046.76" width="59.24" height="42.64" fill="#f1e51d"/>
<rect x="619.34" y="1046.76" width="29.62" height="42.64" fill="#a8db34"/>
<rect x="648.97" y="1046.76" width="29.62" height="42.64" fill="#2fb47c"/>
<rect x="175.01" y="1089.4" width="88.87" height="42.64" fill="#cccccc"/>
<rect x="263.88" y="1089.4" width="29.62" height="42.64" fill="#3b528b"/>
<rect x="293.5" y="1089.4" width="29.62" height="42.64" fill="#2f6c8e"/>
<rect x="323.12" y="1089.4" width="29.62" height="42.64" fill="#287d8e"/>
<rect x="352.74" y="1089.4" width="29.62" height="42.64" fill="#2fb47c"/>
<rect x="382.37" y="1089.4" width="29.62" height="42.64" fill="#52c569"/>
<rect x="411.99" y="1089.4" width="29.62" height="42.64" fill="#5ec962"/>
<rect x="441.61" y="1089.4" width="29.62" height="42.64" fill="#7ad151"/>
<rect x="471.23" y="1089.4" width="29.62" height="42.64" fill="#b0dd2f"/>
<rect x="500.86" y="1089.4" width="29.62" height="42.64" fill="#ece51b"/>
<rect x="530.48" y="1089.4" width="29.62" height="42.64" fill="#f8e621"/>
<rect x="560.1" y="1089.4" width="29.62" height="42.64" fill="#fde725"/>
<rect x="589.72" y="1089.4" width="29.62" height="42.64" fill="#f8e621"/>
<rect x="619.34" y="1089.4" width="29.62" height="42.64" fill="#86d549"/>
<rect x="648.97" y="1089.4" width="29.62" height="42.64" fill="#22a884"/>
<rect x="175.01" y="1132.04" width="59.24" height="42.64" fill="#cccccc"/>
<rect x="234.26" y="1132.04" width="29.62" height="42.64" fill="#3b528b"/>
<rect x="263.88" y="1132.04" width="29.62" height="42.64" fill="#2c738e"/>
<rect x="293.5" y="1132.04" width="29.62" height="42.64" fill="#21918c"/>
<rect x="323.12" y="1132.04" width="29.62" height="42.64" fill="#26ad81"/>
<rect x="352.74" y="1132.04" width="29.62" height="42.64" fill="#52c569"/>
<rect x="382.37" y="1132.04" width="29.62" height="42.64" fill="#63cb5f"/>
<rect x="411.99" y="1132.04" width="29.62" height="42.64" fill="#bddf26"/>
<rect x="441.61" y="1132.04" width="29.62" height="42.64" fill="#d2e21b"/>
<rect x="471.23" y="1132.04" width="29.62" height="42.64" fill="#e5e419"/>
<rect x="500.86" y="1132.04" width="29.62" height="42.64" fill="#f1e51d"/>
<rect x="530.48" y="1132.04" width="29.62" height="42.64" fill="#f8e621"/>
<rect x="560.1" y="1132.04" width="29.62" height="42.64" fill="#fde725"/>
<rect x="589.72" y="1132.04" width="29.62" height="42.64" fill="#b0dd2f"/>
<rect x="619.34" y="1132.04" width="29.62" height="42.64" fill="#7ad151"/>
<rect x="648.97" y="1132.04" width="29.62" height="42.64" fill="#3bbb75"/>
<rect x="175.01" y="1174.68" width="29.62" height="42.64" fill="#cccccc"/>
<rect x="204.63" y="1174.68" width="29.62" height="42.64" fill="#472a7a"/>
<rect x="234.26" y="1174.68" width="29.62" height="42.64" fill="#25848e"/>
<rect x="263.88" y="1174.68" width="29.62" height="42.64" fill="#21918c"/>
<rect x="293.5" y="1174.68" width="29.62" height="42.64" fill="#44bf70"/>
<rect x="323.12" y="1174.68" width="29.62" height="42.64" fill="#7ad151"/>
<rect x="352.74" y="1174.68" width="29.62" height="42.64" fill="#86d549"/>
<rect x="382.37" y="1174.68" width="29.62" height="42.64" fill="#cae11f"/>
<rect x="411.99" y="1174.68" width="29.62" height="42.64" fill="#b0dd2f"/>
<rect x="441.61" y="1174.68" width="29.62" height="42.64" fill="#e5e419"/>
<rect x="471.23" y="1174.68" width="29.62" height="42.64" fill="#ece51b"/>
<rect x="500.86" y="1174.68" width="59.24" height="42.64" fill="#fde725"/>
<rect x="560.1" y="1174.68" width="29.62" height="42.64" fill="#b5de2b"/>
<rect x="589.72" y="1174.68" width="29.62" height="42.64" fill="#a8db34"/>
<rect x="619.34" y="1174.68" width="29.62" height="42.64" fill="#4ec36b"/>
<rect x="648.97" y="1174.68" width="29.62" height="42.64" fill="#7ad151"/>
<rect x="175.01" y="1217.32" width="29.62" height="42.64" fill="#481a6c"/>
<rect x="204.63" y="1217.32" width="29.62" height="42.64" fill="#443a83"/>
<rect x="234.26" y="1217.32" width="29.62" height="42.64" fill="#287d8e"/>
<rect x="263.88" y="1217.32" width="29.62" height="42.64" fill="#2fb47c"/>
<rect x="293.5" y="1217.32" width="29.62" height="42.64" fill="#6ece58"/>
<rect x="323.12" y="1217.32" width="29.62" height="42.64" fill="#9bd93c"/>
<rect x="352.74" y="1217.32" width="59.24" height="42.64" fill="#bddf26"/>
<rect x="411.99" y="1217.32" width="29.62" height="42.64" fill="#dfe318"/>
<rect x="441.61" y="1217.32" width="29.62" height="42.64" fill="#f8e621"/>
<rect x="471.23" y="1217.32" width="29.62" height="42.64" fill="#fde725"/>
<rect x="500.86" y="1217.32" width="29.62" height="42.64" fill="#dfe318"/>
<rect x="530.48" y="1217.32" width="29.62" height="42.64" fill="#a8db34"/>
<rect x="560.1" y="1217.32" width="29.62" height="42.64" fill="#b0dd2f"/>
<rect x="589.72" y="1217.32" width="29.62" height="42.64" fill="#86d549"/>
<rect x="619.34" y="1217.32" width="29.62" height="42.64" fill="#7ad151"/>
<rect x="648.97" y="1217.32" width="29.62" height="42.64" fill="#d2e21b"/>
<rect x="175.01" y="1259.96" width="29.62" height="42.64" fill="#cccccc"/>
<rect x="204.63" y="1259.96" width="29.62" height="42.64" fill="#3e4989"/>
<rect x="234.26" y="1259.96" width="29.62" height="42.64" fill="#26ad81"/>
<rect x="263.88" y="1259.96" width="29.62" height="42.64" fill="#44bf70"/>
<rect x="293.5" y="1259.96" width="29.62" height="42.64" fill="#7ad151"/>
<rect x="323.12" y="1259.96" width="29.62" height="42.64" fill="#9bd93c"/>
<rect x="352.74" y="1259.96" width="29.62" height="42.64" fill="#a8db34"/>
<rect x="382.37" y="1259.96" width="29.62" height="42.64" fill="#d2e21b"/>
<rect x="411.99" y="1259.96" width="29.62" height="42.64" fill="#f8e621"/>
<rect x="441.61" y="1259.96" width="29.62" height="42.64" fill="#dfe318"/>
<rect x="471.23" y="1259.96" width="29.62" height="42.64" fill="#b0dd2f"/>
<rect x="500.86" y="1259.96" width="59.24" height="42.64" fill="#bddf26"/>
<rect x="560.1" y="1259.96" width="29.62" height="42.64" fill="#9bd93c"/>
<rect x="589.72" y="1259.96" width="29.62" height="42.64" fill="#86d549"/>
<rect x="619.34" y="1259.96" width="29.62" height="42.64" fill="#ece51b"/>
<rect x="648.97" y="1259.96" width="29.62" height="42.64" fill="#fde725"/>
<rect x="175.01" y="1302.6" width="29.62" height="42.64" fill="#3b528b"/>
<rect x="204.63" y="1302.6" width="29.62" height="42.64" fill="#31678e"/>
<rect x="234.26" y="1302.6" width="29.62" height="42.64" fill="#1e9c89"/>
<rect x="263.88" y="1302.6" width="29.62" height="42.64" fill="#3bbb75"/>
<rect x="293.5" y="1302.6" width="29.62" height="42.64" fill="#6ece58"/>
<rect x="323.12" y="1302.6" width="29.62" height="42.64" fill="#a8db34"/>
<rect x="352.74" y="1302.6" width="29.62" height="42.64" fill="#7ad151"/>
<rect x="382.37" y="1302.6" width="59.24" height="42.64" fill="#75d054"/>
<rect x="441.61" y="1302.6" width="29.62" height="42.64" fill="#a2da37"/>
<rect x="471.23" y="1302.6" width="29.62" height="42.64" fill="#bddf26"/>
<rect x="500.86" y="1302.6" width="29.62" height="42.64" fill="#a2da37"/>
<rect x="530.48" y="1302.6" width="29.62" height="42.64" fill="#8ed645"/>
<rect x="560.1" y="1302.6" width="29.62" height="42.64" fill="#95d840"/>
<rect x="589.72" y="1302.6" width="29.62" height="42.64" fill="#dfe318"/>
<rect x="619.34" y="1302.6" width="29.62" height="42.64" fill="#b0dd2f"/>
<rect x="648.97" y="1302.6" width="29.62" height="42.64" fill="#fde725"/>
<rect x="175.01" y="1345.24" width="59.24" height="42.64" fill="#cccccc"/>
<rect x="234.26" y="1345.24" width="29.62" height="42.64" fill="#3e4989"/>
<rect x="263.88" y="1345.24" width="59.24" height="42.64" fill="#25848e"/>
<rect x="323.12" y="1345.24" width="29.62" height="42.64" fill="#29af7f"/>
<rect x="352.74" y="1345.24" width="29.62" height="42.64" fill="#52c569"/>
<rect x="382.37" y="1345.24" width="29.62" height="42.64" fill="#6ece58"/>
<rect x="411.99" y="1345.24" width="88.87" height="42.64" fill="#86d549"/>
<rect x="500.86" y="1345.24" width="29.62" height="42.64" fill="#44bf70"/>
<rect x="530.48" y="1345.24" width="29.62" height="42.64" fill="#6ece58"/>
<rect x="560.1" y="1345.24" width="29.62" height="42.64" fill="#e5e419"/>
<rect x="589.72" y="1345.24" width="29.62" height="42.64" fill="#cae11f"/>
<rect x="619.34" y="1345.24" width="59.24" height="42.64" fill="#fde725"/>
<rect x="175.01" y="1387.88" width="59.24" height="42.22" fill="#cccccc"/>
<rect x="234.26" y="1387.88" width="29.62" height="42.22" fill="#32b67a"/>
<rect x="263.88" y="1387.88" width="29.62" height="42.22" fill="#22a884"/>
<rect x="293.5" y="1387.88" width="59.24" height="42.22" fill="#32b67a"/>
<rect x="352.74" y="1387.88" width="29.62" height="42.22" fill="#37b878"/>
<rect x="382.37" y="1387.88" width="29.62" height="42.22" fill="#52c569"/>
<rect x="411.99" y="1387.88" width="59.24" height="42.22" fill="#6ece58"/>
<rect x="471.23" y="1387.88" width="29.62" height="42.22" fill="#26ad81"/>
<rect x="500.86" y="1387.88" width="29.62" height="42.22" fill="#a8db34"/>
<rect x="530.48" y="1387.88" width="29.62" height="42.22" fill="#f8e621"/>
<rect x="560.1" y="1387.88" width="29.62" height="42.22" fill="#f1e51d"/>
<rect x="589.72" y="1387.88" width="29.62" height="42.22" fill="#23898e"/>
<rect x="619.34" y="1387.88" width="29.62" height="42.22" fill="#fde725"/>
</g>
<clipPath id="clip-c"><rect x="160.2" y="833.5" width="533.2" height="596.6"/></clipPath>
<g clip-path="url(#clip-c)">
<path d="M580.5 875.7L561.6 916.8L547.3 936.3" stroke="#000" stroke-width="3.4" fill="none" stroke-linejoin="round" stroke-linecap="butt"/>
<path d="M507.5 989.7L497.7 1004.1L471 1021.4L445.5 1048.6L352.5 1119.3L337.9 1131.7L322.6 1153.2L305 1174.7L308.9 1217.1L293.9 1247.7L289.7 1260L291.3 1302.4L283.7 1345.4L293.2 1357.1L332.3 1388.4L352.5 1392.6L379.9 1393L411.2 1390.4L441.8 1383.2L470 1380.3L501.3 1376.9L530 1362.5L559.3 1346.2L588.5 1317.6L602.2 1301.2L618.5 1276L630.1 1259L649.2 1209.9" stroke="#000" stroke-width="3.4" fill="none" stroke-linejoin="round" stroke-linecap="butt"/>
</g>
<text transform="translate(529 962.4) rotate(-51.3)" y="8.18" font-size="22.4" text-anchor="middle">0.050</text>
<rect x="160.2" y="833.5" width="533.2" height="596.6" fill="none" stroke="#000" stroke-width="1.8"/>
<path d="M160.2 1430.1v8.2M308.31 1430.1v8.2M456.42 1430.1v8.2M604.53 1430.1v8.2" stroke="#000" stroke-width="1.8" fill="none"/>
<text x="160.2" y="1477.3" font-size="41" text-anchor="middle">0</text>
<text x="308.31" y="1477.3" font-size="41" text-anchor="middle">25</text>
<text x="456.42" y="1477.3" font-size="41" text-anchor="middle">50</text>
<text x="604.53" y="1477.3" font-size="41" text-anchor="middle">75</text>
<path d="M160.2 1409.2h-8.2M160.2 1196h-8.2M160.2 982.8h-8.2" stroke="#000" stroke-width="1.8" fill="none"/>
<path d="M160.2 1429.86h-4.6M160.2 1418.96h-4.6M160.2 1345.02h-4.6M160.2 1307.48h-4.6M160.2 1280.84h-4.6M160.2 1260.18h-4.6M160.2 1243.3h-4.6M160.2 1229.03h-4.6M160.2 1216.66h-4.6M160.2 1205.76h-4.6M160.2 1131.82h-4.6M160.2 1094.28h-4.6M160.2 1067.64h-4.6M160.2 1046.98h-4.6M160.2 1030.1h-4.6M160.2 1015.83h-4.6M160.2 1003.46h-4.6M160.2 992.56h-4.6M160.2 918.62h-4.6M160.2 881.08h-4.6M160.2 854.44h-4.6M160.2 833.78h-4.6" stroke="#000" stroke-width="1.4" fill="none"/>
<text x="142.6" y="1423.7" font-size="41" text-anchor="end">10<tspan dy="-15.8" dx="0.5" font-size="28.7">1</tspan></text>
<text x="142.6" y="1210.5" font-size="41" text-anchor="end">10<tspan dy="-15.8" dx="0.5" font-size="28.7">2</tspan></text>
<text x="142.6" y="997.3" font-size="41" text-anchor="end">10<tspan dy="-15.8" dx="0.5" font-size="28.7">3</tspan></text>
<text x="428.4" y="1524.9" font-size="41" text-anchor="middle" class="l">PA (deg)</text>
<text transform="translate(54.8 1131.8) rotate(-90)" font-size="41" text-anchor="middle">E (eV)</text>
<text x="426" y="819.3" font-size="34" text-anchor="middle" letter-spacing="-0.07">fraction of samples with |<tspan font-style="italic">S</tspan><tspan font-style="italic" font-size="23.8" dy="6">local</tspan><tspan dy="-6">|</tspan><tspan dx="6.4">&lt;</tspan><tspan dx="6.3">1</tspan></text>
<text x="0" y="833" font-size="41" text-anchor="start" class="l">(<tspan dx="1.5">c</tspan><tspan dx="1.2">)</tspan></text>
<linearGradient id="gc" x1="0" y1="0" x2="0" y2="1"><stop offset="0" stop-color="#fde725"/><stop offset="0.02" stop-color="#f1e51d"/><stop offset="0.04" stop-color="#e5e419"/><stop offset="0.06" stop-color="#d8e219"/><stop offset="0.08" stop-color="#c8e020"/><stop offset="0.1" stop-color="#bade28"/><stop offset="0.12" stop-color="#addc30"/><stop offset="0.15" stop-color="#9dd93b"/><stop offset="0.17" stop-color="#90d743"/><stop offset="0.19" stop-color="#84d44b"/><stop offset="0.21" stop-color="#75d054"/><stop offset="0.23" stop-color="#69cd5b"/><stop offset="0.25" stop-color="#5ec962"/><stop offset="0.27" stop-color="#52c569"/><stop offset="0.29" stop-color="#48c16e"/><stop offset="0.31" stop-color="#3fbc73"/><stop offset="0.33" stop-color="#35b779"/><stop offset="0.35" stop-color="#2eb37c"/><stop offset="0.38" stop-color="#28ae80"/><stop offset="0.4" stop-color="#23a983"/><stop offset="0.42" stop-color="#20a486"/><stop offset="0.44" stop-color="#1fa088"/><stop offset="0.46" stop-color="#1f9a8a"/><stop offset="0.48" stop-color="#1f958b"/><stop offset="0.5" stop-color="#21918c"/><stop offset="0.52" stop-color="#228b8d"/><stop offset="0.54" stop-color="#24868e"/><stop offset="0.56" stop-color="#26828e"/><stop offset="0.58" stop-color="#287c8e"/><stop offset="0.6" stop-color="#2a778e"/><stop offset="0.62" stop-color="#2c728e"/><stop offset="0.65" stop-color="#2e6d8e"/><stop offset="0.67" stop-color="#31688e"/><stop offset="0.69" stop-color="#33638d"/><stop offset="0.71" stop-color="#365d8d"/><stop offset="0.73" stop-color="#38588c"/><stop offset="0.75" stop-color="#3b528b"/><stop offset="0.77" stop-color="#3e4c8a"/><stop offset="0.79" stop-color="#404688"/><stop offset="0.81" stop-color="#424086"/><stop offset="0.83" stop-color="#443983"/><stop offset="0.85" stop-color="#46337f"/><stop offset="0.88" stop-color="#472d7b"/><stop offset="0.9" stop-color="#482576"/><stop offset="0.92" stop-color="#481f70"/><stop offset="0.94" stop-color="#48186a"/><stop offset="0.96" stop-color="#471063"/><stop offset="0.98" stop-color="#46085c"/><stop offset="1" stop-color="#440154"/></linearGradient>
<rect x="701.4" y="833.5" width="26.8" height="596.6" fill="url(#gc)"/>
<rect x="701.4" y="833.5" width="26.8" height="596.6" fill="none" stroke="#000" stroke-width="1.8"/>
<path d="M728.2 1430.1h8.2M728.2 1199.3h8.2M728.2 1064.3h8.2M728.2 968.51h8.2M728.2 833.5h8.2" stroke="#000" stroke-width="1.8" fill="none"/>
<path d="M728.2 894.21h4.6" stroke="#000" stroke-width="1.4" fill="none"/>
<text x="743.4" y="1445.7" font-size="41" text-anchor="start">0.1</text>
<text x="743.4" y="1214.9" font-size="41" text-anchor="start">0.2</text>
<text x="743.4" y="1079.9" font-size="41" text-anchor="start">0.3</text>
<text x="743.4" y="984.11" font-size="41" text-anchor="start">0.4</text>
<text x="743.4" y="849.1" font-size="41" text-anchor="start">0.6</text>
<text transform="translate(848.5 1131.8) rotate(-90)" font-size="41" text-anchor="middle">fraction</text>
</g>
<g id="panel-d">
<rect x="1103.9" y="833.5" width="532.9" height="596.6" fill="#fff"/>
<g shape-rendering="crispEdges">
<rect x="1103.9" y="833.5" width="59.21" height="42.24" fill="#f8e621"/>
<rect x="1163.11" y="833.5" width="59.21" height="42.24" fill="#dfe318"/>
<rect x="1222.32" y="833.5" width="59.21" height="42.24" fill="#228b8d"/>
<rect x="1281.53" y="833.5" width="59.21" height="42.24" fill="#2fb47c"/>
<rect x="1340.74" y="833.5" width="59.21" height="42.24" fill="#287d8e"/>
<rect x="1399.96" y="833.5" width="59.21" height="42.24" fill="#3b528b"/>
<rect x="1459.17" y="833.5" width="59.21" height="42.24" fill="#471365"/>
<rect x="1518.38" y="833.5" width="118.42" height="42.24" fill="#cccccc"/>
<rect x="1103.9" y="875.74" width="59.21" height="42.64" fill="#fde725"/>
<rect x="1163.11" y="875.74" width="59.21" height="42.64" fill="#dfe318"/>
<rect x="1222.32" y="875.74" width="59.21" height="42.64" fill="#22a884"/>
<rect x="1281.53" y="875.74" width="59.21" height="42.64" fill="#2fb47c"/>
<rect x="1340.74" y="875.74" width="59.21" height="42.64" fill="#25848e"/>
<rect x="1399.96" y="875.74" width="59.21" height="42.64" fill="#2c738e"/>
<rect x="1459.17" y="875.74" width="59.21" height="42.64" fill="#38588c"/>
<rect x="1518.38" y="875.74" width="59.21" height="42.64" fill="#cccccc"/>
<rect x="1577.59" y="875.74" width="59.21" height="42.64" fill="#2d718e"/>
<rect x="1103.9" y="918.38" width="59.21" height="42.64" fill="#fde725"/>
<rect x="1163.11" y="918.38" width="59.21" height="42.64" fill="#f1e51d"/>
<rect x="1222.32" y="918.38" width="59.21" height="42.64" fill="#2fb47c"/>
<rect x="1281.53" y="918.38" width="59.21" height="42.64" fill="#29af7f"/>
<rect x="1340.74" y="918.38" width="59.21" height="42.64" fill="#21918c"/>
<rect x="1399.96" y="918.38" width="59.21" height="42.64" fill="#287d8e"/>
<rect x="1459.17" y="918.38" width="59.21" height="42.64" fill="#2c738e"/>
<rect x="1518.38" y="918.38" width="59.21" height="42.64" fill="#482475"/>
<rect x="1577.59" y="918.38" width="59.21" height="42.64" fill="#5ec962"/>
<rect x="1103.9" y="961.02" width="59.21" height="42.64" fill="#fde725"/>
<rect x="1163.11" y="961.02" width="59.21" height="42.64" fill="#f1e51d"/>
<rect x="1222.32" y="961.02" width="59.21" height="42.64" fill="#44bf70"/>
<rect x="1281.53" y="961.02" width="59.21" height="42.64" fill="#37b878"/>
<rect x="1340.74" y="961.02" width="59.21" height="42.64" fill="#1f978b"/>
<rect x="1399.96" y="961.02" width="59.21" height="42.64" fill="#2a788e"/>
<rect x="1459.17" y="961.02" width="59.21" height="42.64" fill="#287d8e"/>
<rect x="1518.38" y="961.02" width="59.21" height="42.64" fill="#3e4c8a"/>
<rect x="1577.59" y="961.02" width="59.21" height="42.64" fill="#5ec962"/>
<rect x="1103.9" y="1003.66" width="59.21" height="42.64" fill="#bddf26"/>
<rect x="1163.11" y="1003.66" width="59.21" height="42.64" fill="#f1e51d"/>
<rect x="1222.32" y="1003.66" width="59.21" height="42.64" fill="#44bf70"/>
<rect x="1281.53" y="1003.66" width="59.21" height="42.64" fill="#5ec962"/>
<rect x="1340.74" y="1003.66" width="59.21" height="42.64" fill="#1e9c89"/>
<rect x="1399.96" y="1003.66" width="59.21" height="42.64" fill="#23898e"/>
<rect x="1459.17" y="1003.66" width="59.21" height="42.64" fill="#26ad81"/>
<rect x="1518.38" y="1003.66" width="59.21" height="42.64" fill="#20a386"/>
<rect x="1577.59" y="1003.66" width="59.21" height="42.64" fill="#4ec36b"/>
<rect x="1103.9" y="1046.3" width="59.21" height="42.64" fill="#69cd5b"/>
<rect x="1163.11" y="1046.3" width="59.21" height="42.64" fill="#e5e419"/>
<rect x="1222.32" y="1046.3" width="59.21" height="42.64" fill="#52c569"/>
<rect x="1281.53" y="1046.3" width="59.21" height="42.64" fill="#58c765"/>
<rect x="1340.74" y="1046.3" width="118.42" height="42.64" fill="#22a884"/>
<rect x="1459.17" y="1046.3" width="59.21" height="42.64" fill="#4ec36b"/>
<rect x="1518.38" y="1046.3" width="59.21" height="42.64" fill="#21918c"/>
<rect x="1577.59" y="1046.3" width="59.21" height="42.64" fill="#7ad151"/>
<rect x="1103.9" y="1088.94" width="59.21" height="42.64" fill="#9bd93c"/>
<rect x="1163.11" y="1088.94" width="59.21" height="42.64" fill="#dfe318"/>
<rect x="1222.32" y="1088.94" width="59.21" height="42.64" fill="#7ad151"/>
<rect x="1281.53" y="1088.94" width="59.21" height="42.64" fill="#6ece58"/>
<rect x="1340.74" y="1088.94" width="59.21" height="42.64" fill="#22a884"/>
<rect x="1399.96" y="1088.94" width="59.21" height="42.64" fill="#5ec962"/>
<rect x="1459.17" y="1088.94" width="59.21" height="42.64" fill="#44bf70"/>
<rect x="1518.38" y="1088.94" width="59.21" height="42.64" fill="#4ec36b"/>
<rect x="1577.59" y="1088.94" width="59.21" height="42.64" fill="#8ed645"/>
<rect x="1103.9" y="1131.58" width="59.21" height="42.64" fill="#6ece58"/>
<rect x="1163.11" y="1131.58" width="59.21" height="42.64" fill="#c2df23"/>
<rect x="1222.32" y="1131.58" width="59.21" height="42.64" fill="#86d549"/>
<rect x="1281.53" y="1131.58" width="59.21" height="42.64" fill="#63cb5f"/>
<rect x="1340.74" y="1131.58" width="59.21" height="42.64" fill="#22a884"/>
<rect x="1399.96" y="1131.58" width="59.21" height="42.64" fill="#8ed645"/>
<rect x="1459.17" y="1131.58" width="59.21" height="42.64" fill="#4ec36b"/>
<rect x="1518.38" y="1131.58" width="59.21" height="42.64" fill="#29af7f"/>
<rect x="1577.59" y="1131.58" width="59.21" height="42.64" fill="#7ad151"/>
<rect x="1103.9" y="1174.22" width="59.21" height="42.64" fill="#29af7f"/>
<rect x="1163.11" y="1174.22" width="59.21" height="42.64" fill="#d2e21b"/>
<rect x="1222.32" y="1174.22" width="59.21" height="42.64" fill="#86d549"/>
<rect x="1281.53" y="1174.22" width="59.21" height="42.64" fill="#3bbb75"/>
<rect x="1340.74" y="1174.22" width="59.21" height="42.64" fill="#2cb17e"/>
<rect x="1399.96" y="1174.22" width="59.21" height="42.64" fill="#8ed645"/>
<rect x="1459.17" y="1174.22" width="59.21" height="42.64" fill="#a8db34"/>
<rect x="1518.38" y="1174.22" width="59.21" height="42.64" fill="#9bd93c"/>
<rect x="1577.59" y="1174.22" width="59.21" height="42.64" fill="#1e9c89"/>
<rect x="1103.9" y="1216.86" width="59.21" height="42.64" fill="#52c569"/>
<rect x="1163.11" y="1216.86" width="59.21" height="42.64" fill="#cae11f"/>
<rect x="1222.32" y="1216.86" width="59.21" height="42.64" fill="#6ece58"/>
<rect x="1281.53" y="1216.86" width="59.21" height="42.64" fill="#20a386"/>
<rect x="1340.74" y="1216.86" width="59.21" height="42.64" fill="#a2da37"/>
<rect x="1399.96" y="1216.86" width="59.21" height="42.64" fill="#bddf26"/>
<rect x="1459.17" y="1216.86" width="59.21" height="42.64" fill="#52c569"/>
<rect x="1518.38" y="1216.86" width="59.21" height="42.64" fill="#86d549"/>
<rect x="1577.59" y="1216.86" width="59.21" height="42.64" fill="#cccccc"/>
<rect x="1103.9" y="1259.5" width="118.42" height="42.64" fill="#7ad151"/>
<rect x="1222.32" y="1259.5" width="59.21" height="42.64" fill="#37b878"/>
<rect x="1281.53" y="1259.5" width="59.21" height="42.64" fill="#4ec36b"/>
<rect x="1340.74" y="1259.5" width="59.21" height="42.64" fill="#9bd93c"/>
<rect x="1399.96" y="1259.5" width="59.21" height="42.64" fill="#dfe318"/>
<rect x="1459.17" y="1259.5" width="59.21" height="42.64" fill="#3bbb75"/>
<rect x="1518.38" y="1259.5" width="59.21" height="42.64" fill="#cccccc"/>
<rect x="1103.9" y="1302.14" width="59.21" height="42.64" fill="#29af7f"/>
<rect x="1163.11" y="1302.14" width="59.21" height="42.64" fill="#22a884"/>
<rect x="1222.32" y="1302.14" width="59.21" height="42.64" fill="#23898e"/>
<rect x="1281.53" y="1302.14" width="59.21" height="42.64" fill="#52c569"/>
<rect x="1340.74" y="1302.14" width="59.21" height="42.64" fill="#fde725"/>
<rect x="1399.96" y="1302.14" width="59.21" height="42.64" fill="#32b67a"/>
<rect x="1459.17" y="1302.14" width="59.21" height="42.64" fill="#472e7c"/>
<rect x="1518.38" y="1302.14" width="59.21" height="42.64" fill="#cccccc"/>
<rect x="1103.9" y="1344.78" width="59.21" height="42.64" fill="#2fb47c"/>
<rect x="1163.11" y="1344.78" width="59.21" height="42.64" fill="#355f8d"/>
<rect x="1222.32" y="1344.78" width="59.21" height="42.64" fill="#2b758e"/>
<rect x="1281.53" y="1344.78" width="59.21" height="42.64" fill="#fde725"/>
<rect x="1340.74" y="1344.78" width="59.21" height="42.64" fill="#9bd93c"/>
<rect x="1399.96" y="1344.78" width="118.42" height="42.64" fill="#cccccc"/>
<rect x="1103.9" y="1387.42" width="59.21" height="42.64" fill="#cccccc"/>
<rect x="1163.11" y="1387.42" width="59.21" height="42.64" fill="#433e85"/>
<rect x="1222.32" y="1387.42" width="59.21" height="42.64" fill="#21918c"/>
<rect x="1281.53" y="1387.42" width="59.21" height="42.64" fill="#fde725"/>
<rect x="1340.74" y="1387.42" width="59.21" height="42.64" fill="#32648e"/>
<rect x="1399.96" y="1387.42" width="59.21" height="42.64" fill="#cccccc"/>
</g>
<clipPath id="clip-d"><rect x="1103.9" y="833.5" width="532.9" height="596.6"/></clipPath>
<g clip-path="url(#clip-d)">
<path d="M1124.9 833.5L1123.2 905.3L1122.2 964.4" stroke="#000" stroke-width="3.4" fill="none" stroke-linejoin="round" stroke-linecap="butt"/>
<path d="M1110.8 1068.8L1107.4 1086.6L1106 1122.9L1104.2 1159.6L1103.6 1180.9L1104.2 1200.8L1105.3 1217.3L1118.4 1259.9L1122.5 1302.5L1158.2 1345L1222.1 1383.5L1270.1 1345L1281.1 1320.3L1315.5 1302.5L1354 1259.8L1369.1 1247" stroke="#000" stroke-width="3.4" fill="none" stroke-linejoin="round" stroke-linecap="butt"/>
<path d="M1438.4 1147.2L1449.4 1132L1460.9 1089.4L1456.4 1046.8L1459.1 1031.7L1477 1003.5L1489.4 960.3L1494.9 919.1L1496.2 875.8L1494.2 833.5" stroke="#000" stroke-width="3.4" fill="none" stroke-linejoin="round" stroke-linecap="butt"/>
</g>
<text transform="translate(1118.4 1002.9) rotate(-84.3)" y="8.18" font-size="22.4" text-anchor="middle">0.250</text>
<text transform="translate(1403.8 1215.2) rotate(-8)" y="8.18" font-size="22.4" text-anchor="middle">0.250</text>
<rect x="1103.9" y="833.5" width="532.9" height="596.6" fill="none" stroke="#000" stroke-width="1.8"/>
<path d="M1238.77 1430.1v8.2M1403.25 1430.1v8.2M1567.72 1430.1v8.2" stroke="#000" stroke-width="1.8" fill="none"/>
<text x="1238.77" y="1477.3" font-size="41" text-anchor="middle">25</text>
<text x="1403.25" y="1477.3" font-size="41" text-anchor="middle">50</text>
<text x="1567.72" y="1477.3" font-size="41" text-anchor="middle">75</text>
<path d="M1103.9 1366.1h-8.2M1103.9 1152.9h-8.2M1103.9 939.7h-8.2" stroke="#000" stroke-width="1.8" fill="none"/>
<path d="M1103.9 1413.4h-4.6M1103.9 1399.13h-4.6M1103.9 1386.76h-4.6M1103.9 1375.86h-4.6M1103.9 1301.92h-4.6M1103.9 1264.38h-4.6M1103.9 1237.74h-4.6M1103.9 1217.08h-4.6M1103.9 1200.2h-4.6M1103.9 1185.93h-4.6M1103.9 1173.56h-4.6M1103.9 1162.66h-4.6M1103.9 1088.72h-4.6M1103.9 1051.18h-4.6M1103.9 1024.54h-4.6M1103.9 1003.88h-4.6M1103.9 987h-4.6M1103.9 972.73h-4.6M1103.9 960.36h-4.6M1103.9 949.46h-4.6M1103.9 875.52h-4.6M1103.9 837.98h-4.6" stroke="#000" stroke-width="1.4" fill="none"/>
<text x="1086.3" y="1380.6" font-size="41" text-anchor="end">10<tspan dy="-15.8" dx="0.5" font-size="28.7">1</tspan></text>
<text x="1086.3" y="1167.4" font-size="41" text-anchor="end">10<tspan dy="-15.8" dx="0.5" font-size="28.7">2</tspan></text>
<text x="1086.3" y="954.2" font-size="41" text-anchor="end">10<tspan dy="-15.8" dx="0.5" font-size="28.7">3</tspan></text>
<text x="1371.95" y="1524.9" font-size="41" text-anchor="middle" class="l">PA (deg)</text>
<text transform="translate(999 1131.8) rotate(-90)" font-size="41" text-anchor="middle">E (eV)</text>
<text x="1369.95" y="819.3" font-size="34" text-anchor="middle" letter-spacing="-0.07">fraction of samples with |<tspan font-style="italic">S</tspan><tspan font-style="italic" font-size="23.8" dy="6">global</tspan><tspan dy="-6">|</tspan><tspan dx="6.4">&lt;</tspan><tspan dx="6.3">1</tspan></text>
<text x="943.2" y="833" font-size="41" text-anchor="start" class="l">(d)</text>
<linearGradient id="gd" x1="0" y1="0" x2="0" y2="1"><stop offset="0" stop-color="#fde725"/><stop offset="0.02" stop-color="#f1e51d"/><stop offset="0.04" stop-color="#e5e419"/><stop offset="0.06" stop-color="#d8e219"/><stop offset="0.08" stop-color="#c8e020"/><stop offset="0.1" stop-color="#bade28"/><stop offset="0.12" stop-color="#addc30"/><stop offset="0.15" stop-color="#9dd93b"/><stop offset="0.17" stop-color="#90d743"/><stop offset="0.19" stop-color="#84d44b"/><stop offset="0.21" stop-color="#75d054"/><stop offset="0.23" stop-color="#69cd5b"/><stop offset="0.25" stop-color="#5ec962"/><stop offset="0.27" stop-color="#52c569"/><stop offset="0.29" stop-color="#48c16e"/><stop offset="0.31" stop-color="#3fbc73"/><stop offset="0.33" stop-color="#35b779"/><stop offset="0.35" stop-color="#2eb37c"/><stop offset="0.38" stop-color="#28ae80"/><stop offset="0.4" stop-color="#23a983"/><stop offset="0.42" stop-color="#20a486"/><stop offset="0.44" stop-color="#1fa088"/><stop offset="0.46" stop-color="#1f9a8a"/><stop offset="0.48" stop-color="#1f958b"/><stop offset="0.5" stop-color="#21918c"/><stop offset="0.52" stop-color="#228b8d"/><stop offset="0.54" stop-color="#24868e"/><stop offset="0.56" stop-color="#26828e"/><stop offset="0.58" stop-color="#287c8e"/><stop offset="0.6" stop-color="#2a778e"/><stop offset="0.62" stop-color="#2c728e"/><stop offset="0.65" stop-color="#2e6d8e"/><stop offset="0.67" stop-color="#31688e"/><stop offset="0.69" stop-color="#33638d"/><stop offset="0.71" stop-color="#365d8d"/><stop offset="0.73" stop-color="#38588c"/><stop offset="0.75" stop-color="#3b528b"/><stop offset="0.77" stop-color="#3e4c8a"/><stop offset="0.79" stop-color="#404688"/><stop offset="0.81" stop-color="#424086"/><stop offset="0.83" stop-color="#443983"/><stop offset="0.85" stop-color="#46337f"/><stop offset="0.88" stop-color="#472d7b"/><stop offset="0.9" stop-color="#482576"/><stop offset="0.92" stop-color="#481f70"/><stop offset="0.94" stop-color="#48186a"/><stop offset="0.96" stop-color="#471063"/><stop offset="0.98" stop-color="#46085c"/><stop offset="1" stop-color="#440154"/></linearGradient>
<rect x="1644.8" y="833.5" width="27.2" height="596.6" fill="url(#gd)"/>
<rect x="1644.8" y="833.5" width="27.2" height="596.6" fill="none" stroke="#000" stroke-width="1.8"/>
<path d="M1672 1430.1h8.2M1672 1199.3h8.2M1672 1064.3h8.2M1672 968.51h8.2M1672 833.5h8.2" stroke="#000" stroke-width="1.8" fill="none"/>
<path d="M1672 894.21h4.6" stroke="#000" stroke-width="1.4" fill="none"/>
<text x="1687.2" y="1445.7" font-size="41" text-anchor="start">0.1</text>
<text x="1687.2" y="1214.9" font-size="41" text-anchor="start">0.2</text>
<text x="1687.2" y="1079.9" font-size="41" text-anchor="start">0.3</text>
<text x="1687.2" y="984.11" font-size="41" text-anchor="start">0.4</text>
<text x="1687.2" y="849.1" font-size="41" text-anchor="start">0.6</text>
<text transform="translate(1792.3 1131.8) rotate(-90)" font-size="41" text-anchor="middle">fraction</text>
</g>
<g id="panel-e">
<rect x="160.2" y="1626.3" width="533.2" height="596.6" fill="#fff"/>
<g shape-rendering="crispEdges">
<rect x="413.47" y="1641.2" width="13.33" height="18.8" fill="#355f8d"/>
<rect x="466.79" y="1641.2" width="13.33" height="18.8" fill="#31678e"/>
<rect x="480.12" y="1641.2" width="13.33" height="18.8" fill="#287d8e"/>
<rect x="493.45" y="1641.2" width="13.33" height="18.8" fill="#2f6c8e"/>
<rect x="506.78" y="1641.2" width="13.33" height="18.8" fill="#287d8e"/>
<rect x="520.11" y="1641.2" width="13.33" height="18.8" fill="#2a788e"/>
<rect x="546.77" y="1641.2" width="13.33" height="18.8" fill="#21918c"/>
<rect x="560.1" y="1641.2" width="13.33" height="18.8" fill="#31678e"/>
<rect x="400.14" y="1660" width="13.33" height="18.8" fill="#375a8c"/>
<rect x="413.47" y="1660" width="13.33" height="18.8" fill="#2a788e"/>
<rect x="453.46" y="1660" width="26.66" height="18.8" fill="#2d718e"/>
<rect x="480.12" y="1660" width="13.33" height="18.8" fill="#25848e"/>
<rect x="493.45" y="1660" width="13.33" height="18.8" fill="#287d8e"/>
<rect x="506.78" y="1660" width="13.33" height="18.8" fill="#27808e"/>
<rect x="546.77" y="1660" width="13.33" height="18.8" fill="#228b8d"/>
<rect x="560.1" y="1660" width="13.33" height="18.8" fill="#2d718e"/>
<rect x="573.43" y="1660" width="13.33" height="18.8" fill="#3e4989"/>
<rect x="586.76" y="1660" width="13.33" height="18.8" fill="#481a6c"/>
<rect x="600.09" y="1660" width="13.33" height="18.8" fill="#440154"/>
<rect x="373.48" y="1678.8" width="13.33" height="18.8" fill="#38588c"/>
<rect x="386.81" y="1678.8" width="13.33" height="18.8" fill="#27808e"/>
<rect x="400.14" y="1678.8" width="13.33" height="18.8" fill="#287d8e"/>
<rect x="426.8" y="1678.8" width="13.33" height="18.8" fill="#25848e"/>
<rect x="440.13" y="1678.8" width="26.66" height="18.8" fill="#2d718e"/>
<rect x="480.12" y="1678.8" width="13.33" height="18.8" fill="#21918c"/>
<rect x="493.45" y="1678.8" width="13.33" height="18.8" fill="#25848e"/>
<rect x="506.78" y="1678.8" width="13.33" height="18.8" fill="#27808e"/>
<rect x="520.11" y="1678.8" width="13.33" height="18.8" fill="#433e85"/>
<rect x="546.77" y="1678.8" width="13.33" height="18.8" fill="#25848e"/>
<rect x="346.82" y="1697.6" width="13.33" height="18.8" fill="#355f8d"/>
<rect x="360.15" y="1697.6" width="13.33" height="18.8" fill="#287d8e"/>
<rect x="373.48" y="1697.6" width="13.33" height="18.8" fill="#228b8d"/>
<rect x="386.81" y="1697.6" width="13.33" height="18.8" fill="#1f958b"/>
<rect x="400.14" y="1697.6" width="26.66" height="18.8" fill="#287d8e"/>
<rect x="426.8" y="1697.6" width="13.33" height="18.8" fill="#2d718e"/>
<rect x="440.13" y="1697.6" width="13.33" height="18.8" fill="#25848e"/>
<rect x="480.12" y="1697.6" width="13.33" height="18.8" fill="#21918c"/>
<rect x="493.45" y="1697.6" width="13.33" height="18.8" fill="#1f958b"/>
<rect x="506.78" y="1697.6" width="13.33" height="18.8" fill="#21918c"/>
<rect x="520.11" y="1697.6" width="13.33" height="18.8" fill="#2a788e"/>
<rect x="546.77" y="1697.6" width="13.33" height="18.8" fill="#3b528b"/>
<rect x="560.1" y="1697.6" width="13.33" height="18.8" fill="#31678e"/>
<rect x="573.43" y="1697.6" width="13.33" height="18.8" fill="#414487"/>
<rect x="586.76" y="1697.6" width="26.66" height="18.8" fill="#440154"/>
<rect x="626.75" y="1697.6" width="13.33" height="18.8" fill="#440154"/>
<rect x="333.49" y="1716.4" width="13.33" height="18.8" fill="#2c738e"/>
<rect x="346.82" y="1716.4" width="26.66" height="18.8" fill="#228b8d"/>
<rect x="373.48" y="1716.4" width="26.66" height="18.8" fill="#21918c"/>
<rect x="400.14" y="1716.4" width="13.33" height="18.8" fill="#1f958b"/>
<rect x="413.47" y="1716.4" width="13.33" height="18.8" fill="#287d8e"/>
<rect x="426.8" y="1716.4" width="13.33" height="18.8" fill="#1e9c89"/>
<rect x="440.13" y="1716.4" width="13.33" height="18.8" fill="#355f8d"/>
<rect x="453.46" y="1716.4" width="13.33" height="18.8" fill="#287d8e"/>
<rect x="466.79" y="1716.4" width="13.33" height="18.8" fill="#2c738e"/>
<rect x="480.12" y="1716.4" width="13.33" height="18.8" fill="#1fa188"/>
<rect x="493.45" y="1716.4" width="13.33" height="18.8" fill="#228b8d"/>
<rect x="506.78" y="1716.4" width="13.33" height="18.8" fill="#25848e"/>
<rect x="520.11" y="1716.4" width="13.33" height="18.8" fill="#355f8d"/>
<rect x="533.44" y="1716.4" width="13.33" height="18.8" fill="#443a83"/>
<rect x="546.77" y="1716.4" width="13.33" height="18.8" fill="#481d6f"/>
<rect x="560.1" y="1716.4" width="13.33" height="18.8" fill="#440154"/>
<rect x="600.09" y="1716.4" width="13.33" height="18.8" fill="#440154"/>
<rect x="293.5" y="1735.2" width="13.33" height="18.8" fill="#414487"/>
<rect x="306.83" y="1735.2" width="13.33" height="18.8" fill="#287d8e"/>
<rect x="320.16" y="1735.2" width="13.33" height="18.8" fill="#2c738e"/>
<rect x="333.49" y="1735.2" width="13.33" height="18.8" fill="#20a386"/>
<rect x="346.82" y="1735.2" width="13.33" height="18.8" fill="#22a884"/>
<rect x="360.15" y="1735.2" width="39.99" height="18.8" fill="#26ad81"/>
<rect x="400.14" y="1735.2" width="13.33" height="18.8" fill="#22a884"/>
<rect x="413.47" y="1735.2" width="13.33" height="18.8" fill="#26ad81"/>
<rect x="426.8" y="1735.2" width="13.33" height="18.8" fill="#1e9c89"/>
<rect x="440.13" y="1735.2" width="26.66" height="18.8" fill="#2a788e"/>
<rect x="466.79" y="1735.2" width="13.33" height="18.8" fill="#25848e"/>
<rect x="480.12" y="1735.2" width="13.33" height="18.8" fill="#287d8e"/>
<rect x="493.45" y="1735.2" width="13.33" height="18.8" fill="#1e9c89"/>
<rect x="506.78" y="1735.2" width="13.33" height="18.8" fill="#3b528b"/>
<rect x="266.84" y="1754" width="13.33" height="18.8" fill="#375a8c"/>
<rect x="280.17" y="1754" width="13.33" height="18.8" fill="#2a788e"/>
<rect x="293.5" y="1754" width="13.33" height="18.8" fill="#21918c"/>
<rect x="306.83" y="1754" width="13.33" height="18.8" fill="#2a788e"/>
<rect x="320.16" y="1754" width="13.33" height="18.8" fill="#26ad81"/>
<rect x="333.49" y="1754" width="13.33" height="18.8" fill="#32b67a"/>
<rect x="346.82" y="1754" width="13.33" height="18.8" fill="#4ec36b"/>
<rect x="360.15" y="1754" width="26.66" height="18.8" fill="#3bbb75"/>
<rect x="386.81" y="1754" width="13.33" height="18.8" fill="#2fb47c"/>
<rect x="400.14" y="1754" width="26.66" height="18.8" fill="#3bbb75"/>
<rect x="426.8" y="1754" width="26.66" height="18.8" fill="#21918c"/>
<rect x="453.46" y="1754" width="26.66" height="18.8" fill="#20a386"/>
<rect x="480.12" y="1754" width="13.33" height="18.8" fill="#228b8d"/>
<rect x="493.45" y="1754" width="13.33" height="18.8" fill="#27808e"/>
<rect x="506.78" y="1754" width="13.33" height="18.8" fill="#440154"/>
<rect x="520.11" y="1754" width="13.33" height="18.8" fill="#472e7c"/>
<rect x="533.44" y="1754" width="26.66" height="18.8" fill="#440154"/>
<rect x="253.51" y="1772.8" width="13.33" height="18.8" fill="#38588c"/>
<rect x="266.84" y="1772.8" width="13.33" height="18.8" fill="#287d8e"/>
<rect x="280.17" y="1772.8" width="13.33" height="18.8" fill="#21918c"/>
<rect x="293.5" y="1772.8" width="13.33" height="18.8" fill="#20a386"/>
<rect x="306.83" y="1772.8" width="26.66" height="18.8" fill="#2fb47c"/>
<rect x="333.49" y="1772.8" width="13.33" height="18.8" fill="#58c765"/>
<rect x="346.82" y="1772.8" width="13.33" height="18.8" fill="#6ece58"/>
<rect x="360.15" y="1772.8" width="13.33" height="18.8" fill="#4ec36b"/>
<rect x="373.48" y="1772.8" width="13.33" height="18.8" fill="#5ec962"/>
<rect x="386.81" y="1772.8" width="13.33" height="18.8" fill="#4ec36b"/>
<rect x="400.14" y="1772.8" width="13.33" height="18.8" fill="#63cb5f"/>
<rect x="413.47" y="1772.8" width="13.33" height="18.8" fill="#44bf70"/>
<rect x="426.8" y="1772.8" width="26.66" height="18.8" fill="#2fb47c"/>
<rect x="453.46" y="1772.8" width="13.33" height="18.8" fill="#26ad81"/>
<rect x="466.79" y="1772.8" width="13.33" height="18.8" fill="#20a386"/>
<rect x="480.12" y="1772.8" width="26.66" height="18.8" fill="#21918c"/>
<rect x="506.78" y="1772.8" width="13.33" height="18.8" fill="#2a788e"/>
<rect x="240.18" y="1791.6" width="13.33" height="18.8" fill="#463480"/>
<rect x="253.51" y="1791.6" width="26.66" height="18.8" fill="#287d8e"/>
<rect x="280.17" y="1791.6" width="13.33" height="18.8" fill="#44bf70"/>
<rect x="293.5" y="1791.6" width="13.33" height="18.8" fill="#37b878"/>
<rect x="306.83" y="1791.6" width="13.33" height="18.8" fill="#58c765"/>
<rect x="320.16" y="1791.6" width="13.33" height="18.8" fill="#52c569"/>
<rect x="333.49" y="1791.6" width="13.33" height="18.8" fill="#86d549"/>
<rect x="346.82" y="1791.6" width="13.33" height="18.8" fill="#7ad151"/>
<rect x="360.15" y="1791.6" width="13.33" height="18.8" fill="#8ed645"/>
<rect x="373.48" y="1791.6" width="13.33" height="18.8" fill="#69cd5b"/>
<rect x="386.81" y="1791.6" width="13.33" height="18.8" fill="#8ed645"/>
<rect x="400.14" y="1791.6" width="13.33" height="18.8" fill="#7ad151"/>
<rect x="413.47" y="1791.6" width="26.66" height="18.8" fill="#6ece58"/>
<rect x="440.13" y="1791.6" width="13.33" height="18.8" fill="#5ec962"/>
<rect x="453.46" y="1791.6" width="13.33" height="18.8" fill="#3bbb75"/>
<rect x="466.79" y="1791.6" width="13.33" height="18.8" fill="#22a884"/>
<rect x="480.12" y="1791.6" width="13.33" height="18.8" fill="#23898e"/>
<rect x="493.45" y="1791.6" width="13.33" height="18.8" fill="#1e9c89"/>
<rect x="506.78" y="1791.6" width="13.33" height="18.8" fill="#2d718e"/>
<rect x="520.11" y="1791.6" width="13.33" height="18.8" fill="#443a83"/>
<rect x="533.44" y="1791.6" width="13.33" height="18.8" fill="#481d6f"/>
<rect x="240.18" y="1810.4" width="13.33" height="18.8" fill="#23898e"/>
<rect x="253.51" y="1810.4" width="13.33" height="18.8" fill="#25848e"/>
<rect x="266.84" y="1810.4" width="13.33" height="18.8" fill="#22a884"/>
<rect x="280.17" y="1810.4" width="13.33" height="18.8" fill="#4ec36b"/>
<rect x="293.5" y="1810.4" width="13.33" height="18.8" fill="#5ec962"/>
<rect x="306.83" y="1810.4" width="13.33" height="18.8" fill="#63cb5f"/>
<rect x="320.16" y="1810.4" width="13.33" height="18.8" fill="#8ed645"/>
<rect x="333.49" y="1810.4" width="26.66" height="18.8" fill="#9bd93c"/>
<rect x="360.15" y="1810.4" width="13.33" height="18.8" fill="#86d549"/>
<rect x="373.48" y="1810.4" width="26.66" height="18.8" fill="#9bd93c"/>
<rect x="400.14" y="1810.4" width="13.33" height="18.8" fill="#8ed645"/>
<rect x="413.47" y="1810.4" width="26.66" height="18.8" fill="#a8db34"/>
<rect x="440.13" y="1810.4" width="13.33" height="18.8" fill="#7ad151"/>
<rect x="453.46" y="1810.4" width="13.33" height="18.8" fill="#3bbb75"/>
<rect x="466.79" y="1810.4" width="13.33" height="18.8" fill="#44bf70"/>
<rect x="480.12" y="1810.4" width="13.33" height="18.8" fill="#22a884"/>
<rect x="493.45" y="1810.4" width="13.33" height="18.8" fill="#21918c"/>
<rect x="506.78" y="1810.4" width="13.33" height="18.8" fill="#2d718e"/>
<rect x="520.11" y="1810.4" width="13.33" height="18.8" fill="#440154"/>
<rect x="533.44" y="1810.4" width="13.33" height="18.8" fill="#25848e"/>
<rect x="546.77" y="1810.4" width="13.33" height="18.8" fill="#3b528b"/>
<rect x="226.85" y="1829.2" width="13.33" height="18.8" fill="#2c738e"/>
<rect x="240.18" y="1829.2" width="13.33" height="18.8" fill="#23898e"/>
<rect x="253.51" y="1829.2" width="13.33" height="18.8" fill="#22a884"/>
<rect x="266.84" y="1829.2" width="13.33" height="18.8" fill="#44bf70"/>
<rect x="280.17" y="1829.2" width="26.66" height="18.8" fill="#63cb5f"/>
<rect x="306.83" y="1829.2" width="13.33" height="18.8" fill="#86d549"/>
<rect x="320.16" y="1829.2" width="13.33" height="18.8" fill="#a8db34"/>
<rect x="333.49" y="1829.2" width="13.33" height="18.8" fill="#b0dd2f"/>
<rect x="346.82" y="1829.2" width="13.33" height="18.8" fill="#a8db34"/>
<rect x="360.15" y="1829.2" width="39.99" height="18.8" fill="#bddf26"/>
<rect x="400.14" y="1829.2" width="13.33" height="18.8" fill="#cae11f"/>
<rect x="413.47" y="1829.2" width="13.33" height="18.8" fill="#d2e21b"/>
<rect x="426.8" y="1829.2" width="13.33" height="18.8" fill="#bddf26"/>
<rect x="440.13" y="1829.2" width="13.33" height="18.8" fill="#7ad151"/>
<rect x="453.46" y="1829.2" width="13.33" height="18.8" fill="#5ec962"/>
<rect x="466.79" y="1829.2" width="13.33" height="18.8" fill="#3bbb75"/>
<rect x="480.12" y="1829.2" width="13.33" height="18.8" fill="#1e9c89"/>
<rect x="493.45" y="1829.2" width="13.33" height="18.8" fill="#287d8e"/>
<rect x="506.78" y="1829.2" width="26.66" height="18.8" fill="#21918c"/>
<rect x="533.44" y="1829.2" width="13.33" height="18.8" fill="#27808e"/>
<rect x="546.77" y="1829.2" width="13.33" height="18.8" fill="#2a788e"/>
<rect x="586.76" y="1829.2" width="13.33" height="18.8" fill="#31678e"/>
<rect x="600.09" y="1829.2" width="13.33" height="18.8" fill="#2a788e"/>
<rect x="640.08" y="1829.2" width="13.33" height="18.8" fill="#472e7c"/>
<rect x="666.74" y="1829.2" width="13.33" height="18.8" fill="#27808e"/>
<rect x="213.52" y="1848" width="13.33" height="18.8" fill="#440154"/>
<rect x="226.85" y="1848" width="13.33" height="18.8" fill="#25848e"/>
<rect x="240.18" y="1848" width="13.33" height="18.8" fill="#2a788e"/>
<rect x="253.51" y="1848" width="13.33" height="18.8" fill="#4ec36b"/>
<rect x="266.84" y="1848" width="13.33" height="18.8" fill="#5ec962"/>
<rect x="280.17" y="1848" width="13.33" height="18.8" fill="#44bf70"/>
<rect x="293.5" y="1848" width="13.33" height="18.8" fill="#86d549"/>
<rect x="306.83" y="1848" width="13.33" height="18.8" fill="#bddf26"/>
<rect x="320.16" y="1848" width="13.33" height="18.8" fill="#cae11f"/>
<rect x="333.49" y="1848" width="13.33" height="18.8" fill="#bddf26"/>
<rect x="346.82" y="1848" width="13.33" height="18.8" fill="#d2e21b"/>
<rect x="360.15" y="1848" width="26.66" height="18.8" fill="#dfe318"/>
<rect x="386.81" y="1848" width="26.66" height="18.8" fill="#ece51b"/>
<rect x="413.47" y="1848" width="13.33" height="18.8" fill="#cae11f"/>
<rect x="426.8" y="1848" width="13.33" height="18.8" fill="#b0dd2f"/>
<rect x="440.13" y="1848" width="13.33" height="18.8" fill="#7ad151"/>
<rect x="453.46" y="1848" width="13.33" height="18.8" fill="#5ec962"/>
<rect x="466.79" y="1848" width="13.33" height="18.8" fill="#2fb47c"/>
<rect x="480.12" y="1848" width="13.33" height="18.8" fill="#20a386"/>
<rect x="493.45" y="1848" width="13.33" height="18.8" fill="#1f958b"/>
<rect x="506.78" y="1848" width="13.33" height="18.8" fill="#21918c"/>
<rect x="520.11" y="1848" width="13.33" height="18.8" fill="#2d718e"/>
<rect x="533.44" y="1848" width="13.33" height="18.8" fill="#27808e"/>
<rect x="546.77" y="1848" width="13.33" height="18.8" fill="#2a788e"/>
<rect x="560.1" y="1848" width="13.33" height="18.8" fill="#31678e"/>
<rect x="573.43" y="1848" width="13.33" height="18.8" fill="#287d8e"/>
<rect x="586.76" y="1848" width="13.33" height="18.8" fill="#21918c"/>
<rect x="600.09" y="1848" width="13.33" height="18.8" fill="#38588c"/>
<rect x="613.42" y="1848" width="26.66" height="18.8" fill="#32648e"/>
<rect x="640.08" y="1848" width="13.33" height="18.8" fill="#228b8d"/>
<rect x="653.41" y="1848" width="13.33" height="18.8" fill="#287d8e"/>
<rect x="666.74" y="1848" width="13.33" height="18.8" fill="#228b8d"/>
<rect x="213.52" y="1866.8" width="13.33" height="18.8" fill="#27808e"/>
<rect x="240.18" y="1866.8" width="13.33" height="18.8" fill="#20a386"/>
<rect x="253.51" y="1866.8" width="13.33" height="18.8" fill="#69cd5b"/>
<rect x="266.84" y="1866.8" width="13.33" height="18.8" fill="#63cb5f"/>
<rect x="280.17" y="1866.8" width="13.33" height="18.8" fill="#69cd5b"/>
<rect x="293.5" y="1866.8" width="13.33" height="18.8" fill="#9bd93c"/>
<rect x="306.83" y="1866.8" width="26.66" height="18.8" fill="#d2e21b"/>
<rect x="333.49" y="1866.8" width="13.33" height="18.8" fill="#dfe318"/>
<rect x="346.82" y="1866.8" width="26.66" height="18.8" fill="#ece51b"/>
<rect x="373.48" y="1866.8" width="39.99" height="18.8" fill="#f1e51d"/>
<rect x="413.47" y="1866.8" width="13.33" height="18.8" fill="#cae11f"/>
<rect x="426.8" y="1866.8" width="13.33" height="18.8" fill="#b0dd2f"/>
<rect x="440.13" y="1866.8" width="13.33" height="18.8" fill="#7ad151"/>
<rect x="453.46" y="1866.8" width="13.33" height="18.8" fill="#52c569"/>
<rect x="466.79" y="1866.8" width="13.33" height="18.8" fill="#2fb47c"/>
<rect x="480.12" y="1866.8" width="13.33" height="18.8" fill="#22a884"/>
<rect x="493.45" y="1866.8" width="13.33" height="18.8" fill="#29af7f"/>
<rect x="506.78" y="1866.8" width="13.33" height="18.8" fill="#2a788e"/>
<rect x="520.11" y="1866.8" width="13.33" height="18.8" fill="#21918c"/>
<rect x="533.44" y="1866.8" width="13.33" height="18.8" fill="#25848e"/>
<rect x="546.77" y="1866.8" width="13.33" height="18.8" fill="#27808e"/>
<rect x="560.1" y="1866.8" width="13.33" height="18.8" fill="#2a788e"/>
<rect x="573.43" y="1866.8" width="13.33" height="18.8" fill="#21918c"/>
<rect x="586.76" y="1866.8" width="26.66" height="18.8" fill="#27808e"/>
<rect x="613.42" y="1866.8" width="13.33" height="18.8" fill="#25848e"/>
<rect x="626.75" y="1866.8" width="13.33" height="18.8" fill="#20a386"/>
<rect x="640.08" y="1866.8" width="13.33" height="18.8" fill="#2f6c8e"/>
<rect x="653.41" y="1866.8" width="13.33" height="18.8" fill="#21918c"/>
<rect x="666.74" y="1866.8" width="13.33" height="18.8" fill="#1e9c89"/>
<rect x="213.52" y="1885.6" width="13.33" height="18.8" fill="#27808e"/>
<rect x="240.18" y="1885.6" width="13.33" height="18.8" fill="#2fb47c"/>
<rect x="253.51" y="1885.6" width="13.33" height="18.8" fill="#4ec36b"/>
<rect x="266.84" y="1885.6" width="13.33" height="18.8" fill="#6ece58"/>
<rect x="280.17" y="1885.6" width="13.33" height="18.8" fill="#95d840"/>
<rect x="293.5" y="1885.6" width="13.33" height="18.8" fill="#a2da37"/>
<rect x="306.83" y="1885.6" width="26.66" height="18.8" fill="#d2e21b"/>
<rect x="333.49" y="1885.6" width="13.33" height="18.8" fill="#ece51b"/>
<rect x="346.82" y="1885.6" width="13.33" height="18.8" fill="#f8e621"/>
<rect x="360.15" y="1885.6" width="39.99" height="18.8" fill="#fde725"/>
<rect x="400.14" y="1885.6" width="13.33" height="18.8" fill="#e5e419"/>
<rect x="413.47" y="1885.6" width="13.33" height="18.8" fill="#bddf26"/>
<rect x="426.8" y="1885.6" width="13.33" height="18.8" fill="#a8db34"/>
<rect x="440.13" y="1885.6" width="13.33" height="18.8" fill="#7ad151"/>
<rect x="453.46" y="1885.6" width="13.33" height="18.8" fill="#37b878"/>
<rect x="466.79" y="1885.6" width="26.66" height="18.8" fill="#29af7f"/>
<rect x="493.45" y="1885.6" width="13.33" height="18.8" fill="#22a884"/>
<rect x="506.78" y="1885.6" width="13.33" height="18.8" fill="#228b8d"/>
<rect x="520.11" y="1885.6" width="13.33" height="18.8" fill="#2c738e"/>
<rect x="533.44" y="1885.6" width="13.33" height="18.8" fill="#228b8d"/>
<rect x="546.77" y="1885.6" width="13.33" height="18.8" fill="#21918c"/>
<rect x="560.1" y="1885.6" width="13.33" height="18.8" fill="#1f958b"/>
<rect x="573.43" y="1885.6" width="13.33" height="18.8" fill="#21918c"/>
<rect x="586.76" y="1885.6" width="13.33" height="18.8" fill="#2c738e"/>
<rect x="600.09" y="1885.6" width="13.33" height="18.8" fill="#2f6c8e"/>
<rect x="613.42" y="1885.6" width="13.33" height="18.8" fill="#29af7f"/>
<rect x="626.75" y="1885.6" width="13.33" height="18.8" fill="#27808e"/>
<rect x="640.08" y="1885.6" width="13.33" height="18.8" fill="#21918c"/>
<rect x="653.41" y="1885.6" width="13.33" height="18.8" fill="#25848e"/>
<rect x="666.74" y="1885.6" width="13.33" height="18.8" fill="#21918c"/>
<rect x="213.52" y="1904.4" width="13.33" height="18.8" fill="#2a788e"/>
<rect x="226.85" y="1904.4" width="13.33" height="18.8" fill="#355f8d"/>
<rect x="240.18" y="1904.4" width="13.33" height="18.8" fill="#3bbb75"/>
<rect x="253.51" y="1904.4" width="13.33" height="18.8" fill="#44bf70"/>
<rect x="266.84" y="1904.4" width="13.33" height="18.8" fill="#69cd5b"/>
<rect x="280.17" y="1904.4" width="13.33" height="18.8" fill="#95d840"/>
<rect x="293.5" y="1904.4" width="13.33" height="18.8" fill="#9bd93c"/>
<rect x="306.83" y="1904.4" width="13.33" height="18.8" fill="#d2e21b"/>
<rect x="320.16" y="1904.4" width="13.33" height="18.8" fill="#e5e419"/>
<rect x="333.49" y="1904.4" width="13.33" height="18.8" fill="#dfe318"/>
<rect x="346.82" y="1904.4" width="39.99" height="18.8" fill="#fde725"/>
<rect x="386.81" y="1904.4" width="13.33" height="18.8" fill="#ece51b"/>
<rect x="400.14" y="1904.4" width="13.33" height="18.8" fill="#dfe318"/>
<rect x="413.47" y="1904.4" width="13.33" height="18.8" fill="#bddf26"/>
<rect x="426.8" y="1904.4" width="13.33" height="18.8" fill="#a8db34"/>
<rect x="440.13" y="1904.4" width="13.33" height="18.8" fill="#6ece58"/>
<rect x="453.46" y="1904.4" width="13.33" height="18.8" fill="#3bbb75"/>
<rect x="466.79" y="1904.4" width="13.33" height="18.8" fill="#29af7f"/>
<rect x="480.12" y="1904.4" width="13.33" height="18.8" fill="#26ad81"/>
<rect x="493.45" y="1904.4" width="13.33" height="18.8" fill="#482475"/>
<rect x="506.78" y="1904.4" width="13.33" height="18.8" fill="#1fa188"/>
<rect x="520.11" y="1904.4" width="13.33" height="18.8" fill="#21918c"/>
<rect x="533.44" y="1904.4" width="13.33" height="18.8" fill="#2d718e"/>
<rect x="546.77" y="1904.4" width="13.33" height="18.8" fill="#1fa188"/>
<rect x="560.1" y="1904.4" width="13.33" height="18.8" fill="#29af7f"/>
<rect x="573.43" y="1904.4" width="13.33" height="18.8" fill="#1f978b"/>
<rect x="586.76" y="1904.4" width="13.33" height="18.8" fill="#23898e"/>
<rect x="600.09" y="1904.4" width="13.33" height="18.8" fill="#20a386"/>
<rect x="613.42" y="1904.4" width="13.33" height="18.8" fill="#1e9c89"/>
<rect x="626.75" y="1904.4" width="13.33" height="18.8" fill="#2a788e"/>
<rect x="640.08" y="1904.4" width="13.33" height="18.8" fill="#1f958b"/>
<rect x="653.41" y="1904.4" width="13.33" height="18.8" fill="#23898e"/>
<rect x="666.74" y="1904.4" width="13.33" height="18.8" fill="#21918c"/>
<rect x="240.18" y="1923.2" width="13.33" height="18.8" fill="#29af7f"/>
<rect x="253.51" y="1923.2" width="13.33" height="18.8" fill="#4ec36b"/>
<rect x="266.84" y="1923.2" width="13.33" height="18.8" fill="#5ec962"/>
<rect x="280.17" y="1923.2" width="13.33" height="18.8" fill="#8ed645"/>
<rect x="293.5" y="1923.2" width="13.33" height="18.8" fill="#a8db34"/>
<rect x="306.83" y="1923.2" width="26.66" height="18.8" fill="#cae11f"/>
<rect x="333.49" y="1923.2" width="39.99" height="18.8" fill="#f1e51d"/>
<rect x="373.48" y="1923.2" width="13.33" height="18.8" fill="#fde725"/>
<rect x="386.81" y="1923.2" width="13.33" height="18.8" fill="#dfe318"/>
<rect x="400.14" y="1923.2" width="13.33" height="18.8" fill="#d2e21b"/>
<rect x="413.47" y="1923.2" width="26.66" height="18.8" fill="#9bd93c"/>
<rect x="440.13" y="1923.2" width="13.33" height="18.8" fill="#4ec36b"/>
<rect x="453.46" y="1923.2" width="13.33" height="18.8" fill="#22a884"/>
<rect x="466.79" y="1923.2" width="13.33" height="18.8" fill="#2fb47c"/>
<rect x="480.12" y="1923.2" width="13.33" height="18.8" fill="#22a884"/>
<rect x="493.45" y="1923.2" width="13.33" height="18.8" fill="#27808e"/>
<rect x="506.78" y="1923.2" width="13.33" height="18.8" fill="#26ad81"/>
<rect x="520.11" y="1923.2" width="13.33" height="18.8" fill="#287d8e"/>
<rect x="533.44" y="1923.2" width="13.33" height="18.8" fill="#1f958b"/>
<rect x="546.77" y="1923.2" width="26.66" height="18.8" fill="#20a386"/>
<rect x="573.43" y="1923.2" width="13.33" height="18.8" fill="#287d8e"/>
<rect x="586.76" y="1923.2" width="26.66" height="18.8" fill="#1fa188"/>
<rect x="613.42" y="1923.2" width="13.33" height="18.8" fill="#1e9c89"/>
<rect x="626.75" y="1923.2" width="13.33" height="18.8" fill="#2f6c8e"/>
<rect x="640.08" y="1923.2" width="26.66" height="18.8" fill="#21918c"/>
<rect x="666.74" y="1923.2" width="13.33" height="18.8" fill="#3b528b"/>
<rect x="240.18" y="1942" width="13.33" height="18.8" fill="#20a386"/>
<rect x="253.51" y="1942" width="13.33" height="18.8" fill="#2fb47c"/>
<rect x="266.84" y="1942" width="13.33" height="18.8" fill="#3bbb75"/>
<rect x="280.17" y="1942" width="13.33" height="18.8" fill="#5ec962"/>
<rect x="293.5" y="1942" width="13.33" height="18.8" fill="#a8db34"/>
<rect x="306.83" y="1942" width="13.33" height="18.8" fill="#bddf26"/>
<rect x="320.16" y="1942" width="13.33" height="18.8" fill="#c2df23"/>
<rect x="333.49" y="1942" width="13.33" height="18.8" fill="#ece51b"/>
<rect x="346.82" y="1942" width="13.33" height="18.8" fill="#dfe318"/>
<rect x="360.15" y="1942" width="13.33" height="18.8" fill="#ece51b"/>
<rect x="373.48" y="1942" width="13.33" height="18.8" fill="#e5e419"/>
<rect x="386.81" y="1942" width="13.33" height="18.8" fill="#dfe318"/>
<rect x="400.14" y="1942" width="13.33" height="18.8" fill="#bddf26"/>
<rect x="413.47" y="1942" width="13.33" height="18.8" fill="#8ed645"/>
<rect x="426.8" y="1942" width="13.33" height="18.8" fill="#7ad151"/>
<rect x="440.13" y="1942" width="13.33" height="18.8" fill="#3bbb75"/>
<rect x="453.46" y="1942" width="13.33" height="18.8" fill="#37b878"/>
<rect x="466.79" y="1942" width="53.32" height="18.8" fill="#21918c"/>
<rect x="520.11" y="1942" width="13.33" height="18.8" fill="#2f6c8e"/>
<rect x="533.44" y="1942" width="13.33" height="18.8" fill="#26ad81"/>
<rect x="546.77" y="1942" width="13.33" height="18.8" fill="#1fa188"/>
<rect x="560.1" y="1942" width="13.33" height="18.8" fill="#23898e"/>
<rect x="573.43" y="1942" width="13.33" height="18.8" fill="#21918c"/>
<rect x="586.76" y="1942" width="13.33" height="18.8" fill="#22a884"/>
<rect x="600.09" y="1942" width="13.33" height="18.8" fill="#23898e"/>
<rect x="613.42" y="1942" width="13.33" height="18.8" fill="#31678e"/>
<rect x="626.75" y="1942" width="26.66" height="18.8" fill="#38588c"/>
<rect x="653.41" y="1942" width="13.33" height="18.8" fill="#31678e"/>
<rect x="666.74" y="1942" width="13.33" height="18.8" fill="#2f6c8e"/>
<rect x="240.18" y="1960.8" width="13.33" height="18.8" fill="#228b8d"/>
<rect x="253.51" y="1960.8" width="13.33" height="18.8" fill="#26ad81"/>
<rect x="266.84" y="1960.8" width="13.33" height="18.8" fill="#32b67a"/>
<rect x="280.17" y="1960.8" width="13.33" height="18.8" fill="#37b878"/>
<rect x="293.5" y="1960.8" width="13.33" height="18.8" fill="#7ad151"/>
<rect x="306.83" y="1960.8" width="13.33" height="18.8" fill="#95d840"/>
<rect x="320.16" y="1960.8" width="13.33" height="18.8" fill="#9bd93c"/>
<rect x="333.49" y="1960.8" width="26.66" height="18.8" fill="#cae11f"/>
<rect x="360.15" y="1960.8" width="13.33" height="18.8" fill="#dfe318"/>
<rect x="373.48" y="1960.8" width="13.33" height="18.8" fill="#d8e219"/>
<rect x="386.81" y="1960.8" width="13.33" height="18.8" fill="#cae11f"/>
<rect x="400.14" y="1960.8" width="13.33" height="18.8" fill="#a8db34"/>
<rect x="413.47" y="1960.8" width="13.33" height="18.8" fill="#7ad151"/>
<rect x="426.8" y="1960.8" width="13.33" height="18.8" fill="#5ec962"/>
<rect x="440.13" y="1960.8" width="13.33" height="18.8" fill="#3bbb75"/>
<rect x="453.46" y="1960.8" width="13.33" height="18.8" fill="#1e9c89"/>
<rect x="466.79" y="1960.8" width="13.33" height="18.8" fill="#2a788e"/>
<rect x="480.12" y="1960.8" width="26.66" height="18.8" fill="#23898e"/>
<rect x="506.78" y="1960.8" width="13.33" height="18.8" fill="#2d718e"/>
<rect x="520.11" y="1960.8" width="13.33" height="18.8" fill="#23898e"/>
<rect x="533.44" y="1960.8" width="13.33" height="18.8" fill="#25848e"/>
<rect x="546.77" y="1960.8" width="13.33" height="18.8" fill="#26ad81"/>
<rect x="560.1" y="1960.8" width="13.33" height="18.8" fill="#2c738e"/>
<rect x="573.43" y="1960.8" width="13.33" height="18.8" fill="#2d718e"/>
<rect x="586.76" y="1960.8" width="13.33" height="18.8" fill="#22a884"/>
<rect x="600.09" y="1960.8" width="13.33" height="18.8" fill="#1e9c89"/>
<rect x="613.42" y="1960.8" width="13.33" height="18.8" fill="#2a788e"/>
<rect x="640.08" y="1960.8" width="13.33" height="18.8" fill="#440154"/>
<rect x="240.18" y="1979.6" width="13.33" height="18.8" fill="#31678e"/>
<rect x="253.51" y="1979.6" width="13.33" height="18.8" fill="#20a386"/>
<rect x="266.84" y="1979.6" width="13.33" height="18.8" fill="#1fa188"/>
<rect x="280.17" y="1979.6" width="13.33" height="18.8" fill="#37b878"/>
<rect x="293.5" y="1979.6" width="13.33" height="18.8" fill="#44bf70"/>
<rect x="306.83" y="1979.6" width="13.33" height="18.8" fill="#7ad151"/>
<rect x="320.16" y="1979.6" width="13.33" height="18.8" fill="#9bd93c"/>
<rect x="333.49" y="1979.6" width="13.33" height="18.8" fill="#a2da37"/>
<rect x="346.82" y="1979.6" width="13.33" height="18.8" fill="#9bd93c"/>
<rect x="360.15" y="1979.6" width="39.99" height="18.8" fill="#b0dd2f"/>
<rect x="400.14" y="1979.6" width="26.66" height="18.8" fill="#6ece58"/>
<rect x="426.8" y="1979.6" width="13.33" height="18.8" fill="#44bf70"/>
<rect x="440.13" y="1979.6" width="13.33" height="18.8" fill="#22a884"/>
<rect x="453.46" y="1979.6" width="13.33" height="18.8" fill="#21918c"/>
<rect x="466.79" y="1979.6" width="13.33" height="18.8" fill="#2a788e"/>
<rect x="480.12" y="1979.6" width="26.66" height="18.8" fill="#25848e"/>
<rect x="506.78" y="1979.6" width="13.33" height="18.8" fill="#472e7c"/>
<rect x="520.11" y="1979.6" width="13.33" height="18.8" fill="#25848e"/>
<rect x="533.44" y="1979.6" width="13.33" height="18.8" fill="#3b528b"/>
<rect x="546.77" y="1979.6" width="13.33" height="18.8" fill="#287d8e"/>
<rect x="560.1" y="1979.6" width="26.66" height="18.8" fill="#27808e"/>
<rect x="586.76" y="1979.6" width="13.33" height="18.8" fill="#21918c"/>
<rect x="600.09" y="1979.6" width="13.33" height="18.8" fill="#25848e"/>
<rect x="613.42" y="1979.6" width="13.33" height="18.8" fill="#287d8e"/>
<rect x="626.75" y="1979.6" width="13.33" height="18.8" fill="#2d718e"/>
<rect x="640.08" y="1979.6" width="13.33" height="18.8" fill="#38588c"/>
<rect x="653.41" y="1979.6" width="13.33" height="18.8" fill="#481d6f"/>
<rect x="666.74" y="1979.6" width="13.33" height="18.8" fill="#440154"/>
<rect x="253.51" y="1998.4" width="26.66" height="18.8" fill="#1f978b"/>
<rect x="280.17" y="1998.4" width="13.33" height="18.8" fill="#23898e"/>
<rect x="293.5" y="1998.4" width="13.33" height="18.8" fill="#2fb47c"/>
<rect x="306.83" y="1998.4" width="13.33" height="18.8" fill="#44bf70"/>
<rect x="320.16" y="1998.4" width="26.66" height="18.8" fill="#6ece58"/>
<rect x="346.82" y="1998.4" width="13.33" height="18.8" fill="#7ad151"/>
<rect x="360.15" y="1998.4" width="13.33" height="18.8" fill="#86d549"/>
<rect x="373.48" y="1998.4" width="13.33" height="18.8" fill="#7ad151"/>
<rect x="386.81" y="1998.4" width="13.33" height="18.8" fill="#86d549"/>
<rect x="400.14" y="1998.4" width="13.33" height="18.8" fill="#69cd5b"/>
<rect x="413.47" y="1998.4" width="13.33" height="18.8" fill="#3bbb75"/>
<rect x="426.8" y="1998.4" width="13.33" height="18.8" fill="#2fb47c"/>
<rect x="440.13" y="1998.4" width="13.33" height="18.8" fill="#1f958b"/>
<rect x="453.46" y="1998.4" width="13.33" height="18.8" fill="#27808e"/>
<rect x="466.79" y="1998.4" width="13.33" height="18.8" fill="#375a8c"/>
<rect x="480.12" y="1998.4" width="13.33" height="18.8" fill="#25848e"/>
<rect x="493.45" y="1998.4" width="13.33" height="18.8" fill="#355f8d"/>
<rect x="506.78" y="1998.4" width="13.33" height="18.8" fill="#31678e"/>
<rect x="520.11" y="1998.4" width="13.33" height="18.8" fill="#3b528b"/>
<rect x="533.44" y="1998.4" width="13.33" height="18.8" fill="#287d8e"/>
<rect x="546.77" y="1998.4" width="13.33" height="18.8" fill="#38588c"/>
<rect x="560.1" y="1998.4" width="13.33" height="18.8" fill="#443a83"/>
<rect x="573.43" y="1998.4" width="26.66" height="18.8" fill="#25848e"/>
<rect x="600.09" y="1998.4" width="13.33" height="18.8" fill="#440154"/>
<rect x="253.51" y="2017.2" width="13.33" height="18.8" fill="#355f8d"/>
<rect x="266.84" y="2017.2" width="13.33" height="18.8" fill="#1e9c89"/>
<rect x="280.17" y="2017.2" width="13.33" height="18.8" fill="#287d8e"/>
<rect x="293.5" y="2017.2" width="13.33" height="18.8" fill="#1f958b"/>
<rect x="306.83" y="2017.2" width="26.66" height="18.8" fill="#2fb47c"/>
<rect x="333.49" y="2017.2" width="13.33" height="18.8" fill="#32b67a"/>
<rect x="346.82" y="2017.2" width="13.33" height="18.8" fill="#5ec962"/>
<rect x="360.15" y="2017.2" width="13.33" height="18.8" fill="#6ece58"/>
<rect x="373.48" y="2017.2" width="13.33" height="18.8" fill="#4ec36b"/>
<rect x="386.81" y="2017.2" width="26.66" height="18.8" fill="#44bf70"/>
<rect x="413.47" y="2017.2" width="13.33" height="18.8" fill="#29af7f"/>
<rect x="426.8" y="2017.2" width="13.33" height="18.8" fill="#22a884"/>
<rect x="440.13" y="2017.2" width="13.33" height="18.8" fill="#25848e"/>
<rect x="453.46" y="2017.2" width="13.33" height="18.8" fill="#31678e"/>
<rect x="466.79" y="2017.2" width="13.33" height="18.8" fill="#38588c"/>
<rect x="480.12" y="2017.2" width="13.33" height="18.8" fill="#472e7c"/>
<rect x="493.45" y="2017.2" width="13.33" height="18.8" fill="#2f6c8e"/>
<rect x="506.78" y="2017.2" width="13.33" height="18.8" fill="#3b528b"/>
<rect x="520.11" y="2017.2" width="13.33" height="18.8" fill="#472e7c"/>
<rect x="533.44" y="2017.2" width="39.99" height="18.8" fill="#440154"/>
<rect x="573.43" y="2017.2" width="13.33" height="18.8" fill="#287d8e"/>
<rect x="586.76" y="2017.2" width="13.33" height="18.8" fill="#2f6c8e"/>
<rect x="600.09" y="2017.2" width="13.33" height="18.8" fill="#2a788e"/>
<rect x="613.42" y="2017.2" width="13.33" height="18.8" fill="#3e4989"/>
<rect x="626.75" y="2017.2" width="13.33" height="18.8" fill="#481d6f"/>
<rect x="640.08" y="2017.2" width="13.33" height="18.8" fill="#440154"/>
<rect x="666.74" y="2017.2" width="13.33" height="18.8" fill="#440154"/>
<rect x="266.84" y="2036" width="13.33" height="18.8" fill="#287d8e"/>
<rect x="280.17" y="2036" width="13.33" height="18.8" fill="#481d6f"/>
<rect x="293.5" y="2036" width="13.33" height="18.8" fill="#23898e"/>
<rect x="306.83" y="2036" width="13.33" height="18.8" fill="#25848e"/>
<rect x="320.16" y="2036" width="26.66" height="18.8" fill="#1f958b"/>
<rect x="346.82" y="2036" width="26.66" height="18.8" fill="#44bf70"/>
<rect x="373.48" y="2036" width="13.33" height="18.8" fill="#26ad81"/>
<rect x="386.81" y="2036" width="13.33" height="18.8" fill="#20a386"/>
<rect x="400.14" y="2036" width="13.33" height="18.8" fill="#1e9c89"/>
<rect x="413.47" y="2036" width="13.33" height="18.8" fill="#1f958b"/>
<rect x="426.8" y="2036" width="13.33" height="18.8" fill="#21918c"/>
<rect x="440.13" y="2036" width="13.33" height="18.8" fill="#2c738e"/>
<rect x="453.46" y="2036" width="13.33" height="18.8" fill="#3b528b"/>
<rect x="466.79" y="2036" width="13.33" height="18.8" fill="#463480"/>
<rect x="480.12" y="2036" width="13.33" height="18.8" fill="#481d6f"/>
<rect x="533.44" y="2036" width="13.33" height="18.8" fill="#440154"/>
<rect x="586.76" y="2036" width="26.66" height="18.8" fill="#3b528b"/>
<rect x="613.42" y="2036" width="26.66" height="18.8" fill="#481d6f"/>
<rect x="280.17" y="2054.8" width="13.33" height="18.8" fill="#355f8d"/>
<rect x="293.5" y="2054.8" width="13.33" height="18.8" fill="#21918c"/>
<rect x="306.83" y="2054.8" width="13.33" height="18.8" fill="#355f8d"/>
<rect x="320.16" y="2054.8" width="13.33" height="18.8" fill="#25848e"/>
<rect x="333.49" y="2054.8" width="13.33" height="18.8" fill="#2c738e"/>
<rect x="346.82" y="2054.8" width="26.66" height="18.8" fill="#1fa188"/>
<rect x="373.48" y="2054.8" width="13.33" height="18.8" fill="#1f958b"/>
<rect x="386.81" y="2054.8" width="13.33" height="18.8" fill="#1fa188"/>
<rect x="400.14" y="2054.8" width="13.33" height="18.8" fill="#21918c"/>
<rect x="413.47" y="2054.8" width="13.33" height="18.8" fill="#23898e"/>
<rect x="426.8" y="2054.8" width="13.33" height="18.8" fill="#472e7c"/>
<rect x="440.13" y="2054.8" width="13.33" height="18.8" fill="#440154"/>
<rect x="293.5" y="2073.6" width="13.33" height="18.8" fill="#472e7c"/>
<rect x="306.83" y="2073.6" width="13.33" height="18.8" fill="#25848e"/>
<rect x="320.16" y="2073.6" width="13.33" height="18.8" fill="#27808e"/>
<rect x="333.49" y="2073.6" width="26.66" height="18.8" fill="#25848e"/>
<rect x="360.15" y="2073.6" width="13.33" height="18.8" fill="#443a83"/>
<rect x="373.48" y="2073.6" width="13.33" height="18.8" fill="#21918c"/>
<rect x="386.81" y="2073.6" width="13.33" height="18.8" fill="#2c738e"/>
<rect x="400.14" y="2073.6" width="13.33" height="18.8" fill="#2a788e"/>
<rect x="413.47" y="2073.6" width="13.33" height="18.8" fill="#23898e"/>
<rect x="426.8" y="2073.6" width="13.33" height="18.8" fill="#287d8e"/>
<rect x="440.13" y="2073.6" width="13.33" height="18.8" fill="#414487"/>
<rect x="453.46" y="2073.6" width="13.33" height="18.8" fill="#440154"/>
<rect x="320.16" y="2092.4" width="13.33" height="18.8" fill="#375a8c"/>
<rect x="333.49" y="2092.4" width="13.33" height="18.8" fill="#287d8e"/>
<rect x="346.82" y="2092.4" width="13.33" height="18.8" fill="#25848e"/>
<rect x="360.15" y="2092.4" width="13.33" height="18.8" fill="#228b8d"/>
<rect x="373.48" y="2092.4" width="13.33" height="18.8" fill="#38588c"/>
<rect x="386.81" y="2092.4" width="13.33" height="18.8" fill="#481d6f"/>
<rect x="413.47" y="2092.4" width="26.66" height="18.8" fill="#440154"/>
<rect x="440.13" y="2092.4" width="13.33" height="18.8" fill="#414487"/>
<rect x="453.46" y="2092.4" width="13.33" height="18.8" fill="#481d6f"/>
<rect x="466.79" y="2092.4" width="13.33" height="18.8" fill="#440154"/>
<rect x="346.82" y="2111.2" width="13.33" height="18.8" fill="#375a8c"/>
<rect x="360.15" y="2111.2" width="13.33" height="18.8" fill="#25848e"/>
<rect x="373.48" y="2111.2" width="13.33" height="18.8" fill="#482475"/>
<rect x="386.81" y="2111.2" width="13.33" height="18.8" fill="#481d6f"/>
<rect x="413.47" y="2111.2" width="13.33" height="18.8" fill="#440154"/>
<rect x="360.15" y="2130" width="13.33" height="18.8" fill="#27808e"/>
<rect x="360.15" y="2148.8" width="13.33" height="18.8" fill="#443a83"/>
<rect x="373.48" y="2148.8" width="13.33" height="18.8" fill="#355f8d"/>
<rect x="386.81" y="2148.8" width="13.33" height="18.8" fill="#443a83"/>
<rect x="400.14" y="2148.8" width="13.33" height="18.8" fill="#482475"/>
<rect x="440.13" y="2148.8" width="13.33" height="18.8" fill="#440154"/>
</g>
<clipPath id="clip-e"><rect x="160.2" y="1626.3" width="533.2" height="596.6"/></clipPath>
<g clip-path="url(#clip-e)">
</g>
<path d="M360.15 1626.3V2222.9M160.2 1904.4H693.4" stroke="#000" stroke-width="3.5" fill="none"/>
<rect x="160.2" y="1626.3" width="533.2" height="596.6" fill="none" stroke="#000" stroke-width="1.8"/>
<path d="M160.2 2092.4h-8.2M160.2 1904.4h-8.2M160.2 1716.4h-8.2" stroke="#000" stroke-width="1.8" fill="none"/>
<path d="M160.2 2223.81h-4.6M160.2 2190.7h-4.6M160.2 2167.21h-4.6M160.2 2148.99h-4.6M160.2 2134.11h-4.6M160.2 2121.52h-4.6M160.2 2110.62h-4.6M160.2 2101h-4.6M160.2 2035.81h-4.6M160.2 2002.7h-4.6M160.2 1979.21h-4.6M160.2 1960.99h-4.6M160.2 1946.11h-4.6M160.2 1933.52h-4.6M160.2 1922.62h-4.6M160.2 1913h-4.6M160.2 1847.81h-4.6M160.2 1814.7h-4.6M160.2 1791.21h-4.6M160.2 1772.99h-4.6M160.2 1758.11h-4.6M160.2 1745.52h-4.6M160.2 1734.62h-4.6M160.2 1725h-4.6M160.2 1659.81h-4.6M160.2 1626.7h-4.6" stroke="#000" stroke-width="1.4" fill="none"/>
<text x="142.6" y="2106.9" font-size="41" text-anchor="end">10<tspan dy="-15.8" dx="0.5" font-size="28.7">−1</tspan></text>
<text x="142.6" y="1918.9" font-size="41" text-anchor="end">10<tspan dy="-15.8" dx="0.5" font-size="28.7">0</tspan></text>
<text x="142.6" y="1730.9" font-size="41" text-anchor="end">10<tspan dy="-15.8" dx="0.5" font-size="28.7">1</tspan></text>
<path d="M160.2 2222.9v8.2M360.15 2222.9v8.2M560.1 2222.9v8.2" stroke="#000" stroke-width="1.8" fill="none"/>
<text x="159.6" y="2270.1" font-size="41" text-anchor="middle">10<tspan dy="-15.8" dx="0.5" font-size="28.7">−3</tspan></text>
<text x="359.55" y="2270.1" font-size="41" text-anchor="middle">10<tspan dy="-15.8" dx="0.5" font-size="28.7">0</tspan></text>
<text x="559.5" y="2270.1" font-size="41" text-anchor="middle">10<tspan dy="-15.8" dx="0.5" font-size="28.7">3</tspan></text>
<text x="426.8" y="2319.8" font-size="41.0" text-anchor="middle">|<tspan font-style="italic">S</tspan><tspan font-style="italic" font-size="28.7" dy="6">local</tspan><tspan dy="-6">|</tspan></text>
<text transform="translate(31.2 1924.6) rotate(-90)" font-size="41" text-anchor="middle">RHS/LHS</text>
<text x="426.8" y="1613.1" font-size="34" text-anchor="middle">distribution of samples</text>
<text x="0" y="1625.8" font-size="41" text-anchor="start" class="l">(e)</text>
<linearGradient id="ge" x1="0" y1="0" x2="0" y2="1"><stop offset="0" stop-color="#fde725"/><stop offset="0.02" stop-color="#f1e51d"/><stop offset="0.04" stop-color="#e5e419"/><stop offset="0.06" stop-color="#d8e219"/><stop offset="0.08" stop-color="#c8e020"/><stop offset="0.1" stop-color="#bade28"/><stop offset="0.12" stop-color="#addc30"/><stop offset="0.15" stop-color="#9dd93b"/><stop offset="0.17" stop-color="#90d743"/><stop offset="0.19" stop-color="#84d44b"/><stop offset="0.21" stop-color="#75d054"/><stop offset="0.23" stop-color="#69cd5b"/><stop offset="0.25" stop-color="#5ec962"/><stop offset="0.27" stop-color="#52c569"/><stop offset="0.29" stop-color="#48c16e"/><stop offset="0.31" stop-color="#3fbc73"/><stop offset="0.33" stop-color="#35b779"/><stop offset="0.35" stop-color="#2eb37c"/><stop offset="0.38" stop-color="#28ae80"/><stop offset="0.4" stop-color="#23a983"/><stop offset="0.42" stop-color="#20a486"/><stop offset="0.44" stop-color="#1fa088"/><stop offset="0.46" stop-color="#1f9a8a"/><stop offset="0.48" stop-color="#1f958b"/><stop offset="0.5" stop-color="#21918c"/><stop offset="0.52" stop-color="#228b8d"/><stop offset="0.54" stop-color="#24868e"/><stop offset="0.56" stop-color="#26828e"/><stop offset="0.58" stop-color="#287c8e"/><stop offset="0.6" stop-color="#2a778e"/><stop offset="0.62" stop-color="#2c728e"/><stop offset="0.65" stop-color="#2e6d8e"/><stop offset="0.67" stop-color="#31688e"/><stop offset="0.69" stop-color="#33638d"/><stop offset="0.71" stop-color="#365d8d"/><stop offset="0.73" stop-color="#38588c"/><stop offset="0.75" stop-color="#3b528b"/><stop offset="0.77" stop-color="#3e4c8a"/><stop offset="0.79" stop-color="#404688"/><stop offset="0.81" stop-color="#424086"/><stop offset="0.83" stop-color="#443983"/><stop offset="0.85" stop-color="#46337f"/><stop offset="0.88" stop-color="#472d7b"/><stop offset="0.9" stop-color="#482576"/><stop offset="0.92" stop-color="#481f70"/><stop offset="0.94" stop-color="#48186a"/><stop offset="0.96" stop-color="#471063"/><stop offset="0.98" stop-color="#46085c"/><stop offset="1" stop-color="#440154"/></linearGradient>
<rect x="701.4" y="1626.3" width="26.8" height="596.6" fill="url(#ge)"/>
<rect x="701.4" y="1626.3" width="26.8" height="596.6" fill="none" stroke="#000" stroke-width="1.8"/>
<path d="M728.2 2222.9h8.2M728.2 2054.71h8.2M728.2 1886.52h8.2M728.2 1718.33h8.2" stroke="#000" stroke-width="1.8" fill="none"/>
<path d="M728.2 2172.27h4.6M728.2 2142.65h4.6M728.2 2121.64h4.6M728.2 2105.34h4.6M728.2 2092.02h4.6M728.2 2080.76h4.6M728.2 2071.01h4.6M728.2 2062.41h4.6M728.2 2004.08h4.6M728.2 1974.46h4.6M728.2 1953.45h4.6M728.2 1937.15h4.6M728.2 1923.83h4.6M728.2 1912.57h4.6M728.2 1902.82h4.6M728.2 1894.21h4.6M728.2 1835.89h4.6M728.2 1806.27h4.6M728.2 1785.26h4.6M728.2 1768.96h4.6M728.2 1755.64h4.6M728.2 1744.38h4.6M728.2 1734.63h4.6M728.2 1726.02h4.6M728.2 1667.7h4.6M728.2 1638.08h4.6" stroke="#000" stroke-width="1.4" fill="none"/>
<text x="743.4" y="2237.4" font-size="41" text-anchor="start">10<tspan dy="-15.8" dx="0.5" font-size="28.7">0</tspan></text>
<text x="743.4" y="2069.21" font-size="41" text-anchor="start">10<tspan dy="-15.8" dx="0.5" font-size="28.7">1</tspan></text>
<text x="743.4" y="1901.02" font-size="41" text-anchor="start">10<tspan dy="-15.8" dx="0.5" font-size="28.7">2</tspan></text>
<text x="743.4" y="1732.83" font-size="41" text-anchor="start">10<tspan dy="-15.8" dx="0.5" font-size="28.7">3</tspan></text>
<text transform="translate(856 1924.6) rotate(-90)" font-size="41" text-anchor="middle">counts</text>
</g>
<g id="panel-f">
<rect x="1103.9" y="1626.3" width="532.9" height="596.6" fill="#fff"/>
<g shape-rendering="crispEdges">
<rect x="1103.9" y="1626.3" width="122.4" height="27.43" fill="#cccccc"/>
<rect x="1226.3" y="1626.3" width="61.2" height="27.43" fill="#3bbb75"/>
<rect x="1287.5" y="1626.3" width="61.2" height="27.43" fill="#44bf70"/>
<rect x="1348.7" y="1626.3" width="61.2" height="27.43" fill="#fde725"/>
<rect x="1409.9" y="1626.3" width="61.2" height="27.43" fill="#228b8d"/>
<rect x="1471.1" y="1626.3" width="61.2" height="27.43" fill="#1e9c89"/>
<rect x="1532.3" y="1626.3" width="61.2" height="27.43" fill="#38588c"/>
<rect x="1593.5" y="1626.3" width="43.3" height="27.43" fill="#cccccc"/>
<rect x="1103.9" y="1653.73" width="61.2" height="62.67" fill="#fde725"/>
<rect x="1165.1" y="1653.73" width="61.2" height="62.67" fill="#f1e51d"/>
<rect x="1226.3" y="1653.73" width="61.2" height="62.67" fill="#69cd5b"/>
<rect x="1287.5" y="1653.73" width="61.2" height="62.67" fill="#86d549"/>
<rect x="1348.7" y="1653.73" width="61.2" height="62.67" fill="#2fb47c"/>
<rect x="1409.9" y="1653.73" width="61.2" height="62.67" fill="#20a386"/>
<rect x="1471.1" y="1653.73" width="61.2" height="62.67" fill="#e5e419"/>
<rect x="1532.3" y="1653.73" width="61.2" height="62.67" fill="#21918c"/>
<rect x="1593.5" y="1653.73" width="43.3" height="62.67" fill="#25848e"/>
<rect x="1103.9" y="1716.4" width="61.2" height="62.67" fill="#7ad151"/>
<rect x="1165.1" y="1716.4" width="61.2" height="62.67" fill="#d2e21b"/>
<rect x="1226.3" y="1716.4" width="61.2" height="62.67" fill="#5ec962"/>
<rect x="1287.5" y="1716.4" width="61.2" height="62.67" fill="#37b878"/>
<rect x="1348.7" y="1716.4" width="61.2" height="62.67" fill="#32b67a"/>
<rect x="1409.9" y="1716.4" width="61.2" height="62.67" fill="#1fa188"/>
<rect x="1471.1" y="1716.4" width="61.2" height="62.67" fill="#23898e"/>
<rect x="1532.3" y="1716.4" width="61.2" height="62.67" fill="#2d718e"/>
<rect x="1593.5" y="1716.4" width="43.3" height="62.67" fill="#cccccc"/>
<rect x="1103.9" y="1779.07" width="61.2" height="62.67" fill="#52c569"/>
<rect x="1165.1" y="1779.07" width="61.2" height="62.67" fill="#69cd5b"/>
<rect x="1226.3" y="1779.07" width="61.2" height="62.67" fill="#8ed645"/>
<rect x="1287.5" y="1779.07" width="61.2" height="62.67" fill="#69cd5b"/>
<rect x="1348.7" y="1779.07" width="61.2" height="62.67" fill="#4ec36b"/>
<rect x="1409.9" y="1779.07" width="61.2" height="62.67" fill="#22a884"/>
<rect x="1471.1" y="1779.07" width="61.2" height="62.67" fill="#25848e"/>
<rect x="1532.3" y="1779.07" width="61.2" height="62.67" fill="#31678e"/>
<rect x="1593.5" y="1779.07" width="43.3" height="62.67" fill="#3b528b"/>
<rect x="1103.9" y="1841.73" width="61.2" height="62.67" fill="#32b67a"/>
<rect x="1165.1" y="1841.73" width="61.2" height="62.67" fill="#2fb47c"/>
<rect x="1226.3" y="1841.73" width="61.2" height="62.67" fill="#6ece58"/>
<rect x="1287.5" y="1841.73" width="61.2" height="62.67" fill="#cae11f"/>
<rect x="1348.7" y="1841.73" width="61.2" height="62.67" fill="#86d549"/>
<rect x="1409.9" y="1841.73" width="61.2" height="62.67" fill="#3bbb75"/>
<rect x="1471.1" y="1841.73" width="61.2" height="62.67" fill="#27808e"/>
<rect x="1532.3" y="1841.73" width="61.2" height="62.67" fill="#2d718e"/>
<rect x="1593.5" y="1841.73" width="43.3" height="62.67" fill="#481a6c"/>
<rect x="1103.9" y="1904.4" width="61.2" height="62.67" fill="#32b67a"/>
<rect x="1165.1" y="1904.4" width="61.2" height="62.67" fill="#52c569"/>
<rect x="1226.3" y="1904.4" width="61.2" height="62.67" fill="#d8e219"/>
<rect x="1287.5" y="1904.4" width="61.2" height="62.67" fill="#fde725"/>
<rect x="1348.7" y="1904.4" width="61.2" height="62.67" fill="#a8db34"/>
<rect x="1409.9" y="1904.4" width="61.2" height="62.67" fill="#20a386"/>
<rect x="1471.1" y="1904.4" width="61.2" height="62.67" fill="#21918c"/>
<rect x="1532.3" y="1904.4" width="61.2" height="62.67" fill="#32648e"/>
<rect x="1593.5" y="1904.4" width="43.3" height="62.67" fill="#25848e"/>
<rect x="1103.9" y="1967.07" width="61.2" height="62.67" fill="#f1e51d"/>
<rect x="1165.1" y="1967.07" width="61.2" height="62.67" fill="#ece51b"/>
<rect x="1226.3" y="1967.07" width="122.4" height="62.67" fill="#fde725"/>
<rect x="1348.7" y="1967.07" width="61.2" height="62.67" fill="#cae11f"/>
<rect x="1409.9" y="1967.07" width="61.2" height="62.67" fill="#20a386"/>
<rect x="1471.1" y="1967.07" width="122.4" height="62.67" fill="#25848e"/>
<rect x="1593.5" y="1967.07" width="43.3" height="62.67" fill="#38588c"/>
<rect x="1103.9" y="2029.73" width="61.2" height="62.67" fill="#86d549"/>
<rect x="1165.1" y="2029.73" width="61.2" height="62.67" fill="#9bd93c"/>
<rect x="1226.3" y="2029.73" width="61.2" height="62.67" fill="#8ed645"/>
<rect x="1287.5" y="2029.73" width="122.4" height="62.67" fill="#fde725"/>
<rect x="1409.9" y="2029.73" width="61.2" height="62.67" fill="#86d549"/>
<rect x="1471.1" y="2029.73" width="61.2" height="62.67" fill="#228b8d"/>
<rect x="1532.3" y="2029.73" width="61.2" height="62.67" fill="#2a788e"/>
<rect x="1593.5" y="2029.73" width="43.3" height="62.67" fill="#27808e"/>
<rect x="1103.9" y="2092.4" width="61.2" height="62.67" fill="#e5e419"/>
<rect x="1165.1" y="2092.4" width="61.2" height="62.67" fill="#9bd93c"/>
<rect x="1226.3" y="2092.4" width="61.2" height="62.67" fill="#5ec962"/>
<rect x="1287.5" y="2092.4" width="61.2" height="62.67" fill="#b0dd2f"/>
<rect x="1348.7" y="2092.4" width="61.2" height="62.67" fill="#fde725"/>
<rect x="1409.9" y="2092.4" width="61.2" height="62.67" fill="#9bd93c"/>
<rect x="1471.1" y="2092.4" width="61.2" height="62.67" fill="#fde725"/>
<rect x="1532.3" y="2092.4" width="61.2" height="62.67" fill="#21918c"/>
<rect x="1593.5" y="2092.4" width="43.3" height="62.67" fill="#482475"/>
<rect x="1103.9" y="2155.07" width="61.2" height="62.67" fill="#4ec36b"/>
<rect x="1165.1" y="2155.07" width="61.2" height="62.67" fill="#fde725"/>
<rect x="1226.3" y="2155.07" width="61.2" height="62.67" fill="#6ece58"/>
<rect x="1287.5" y="2155.07" width="122.4" height="62.67" fill="#fde725"/>
<rect x="1409.9" y="2155.07" width="61.2" height="62.67" fill="#a8db34"/>
<rect x="1471.1" y="2155.07" width="61.2" height="62.67" fill="#3b528b"/>
<rect x="1532.3" y="2155.07" width="61.2" height="62.67" fill="#481a6c"/>
<rect x="1593.5" y="2155.07" width="43.3" height="62.67" fill="#414487"/>
<rect x="1103.9" y="2217.73" width="532.9" height="5.17" fill="#cccccc"/>
</g>
<clipPath id="clip-f"><rect x="1103.9" y="1626.3" width="532.9" height="596.6"/></clipPath>
<g clip-path="url(#clip-f)">
</g>
<rect x="1103.9" y="1626.3" width="532.9" height="596.6" fill="none" stroke="#000" stroke-width="1.8"/>
<path d="M1103.9 2092.4h-8.2M1103.9 1904.4h-8.2M1103.9 1716.4h-8.2" stroke="#000" stroke-width="1.8" fill="none"/>
<path d="M1103.9 2223.81h-4.6M1103.9 2190.7h-4.6M1103.9 2167.21h-4.6M1103.9 2148.99h-4.6M1103.9 2134.11h-4.6M1103.9 2121.52h-4.6M1103.9 2110.62h-4.6M1103.9 2101h-4.6M1103.9 2035.81h-4.6M1103.9 2002.7h-4.6M1103.9 1979.21h-4.6M1103.9 1960.99h-4.6M1103.9 1946.11h-4.6M1103.9 1933.52h-4.6M1103.9 1922.62h-4.6M1103.9 1913h-4.6M1103.9 1847.81h-4.6M1103.9 1814.7h-4.6M1103.9 1791.21h-4.6M1103.9 1772.99h-4.6M1103.9 1758.11h-4.6M1103.9 1745.52h-4.6M1103.9 1734.62h-4.6M1103.9 1725h-4.6M1103.9 1659.81h-4.6M1103.9 1626.7h-4.6" stroke="#000" stroke-width="1.4" fill="none"/>
<text x="1086.3" y="2106.9" font-size="41" text-anchor="end">10<tspan dy="-15.8" dx="0.5" font-size="28.7">−1</tspan></text>
<text x="1086.3" y="1918.9" font-size="41" text-anchor="end">10<tspan dy="-15.8" dx="0.5" font-size="28.7">0</tspan></text>
<text x="1086.3" y="1730.9" font-size="41" text-anchor="end">10<tspan dy="-15.8" dx="0.5" font-size="28.7">1</tspan></text>
<path d="M1103.9 2222.9v8.2M1287.5 2222.9v8.2M1471.1 2222.9v8.2" stroke="#000" stroke-width="1.8" fill="none"/>
<path d="M1159.17 2222.9v4.6M1191.5 2222.9v4.6M1214.44 2222.9v4.6M1232.23 2222.9v4.6M1246.77 2222.9v4.6M1259.06 2222.9v4.6M1269.71 2222.9v4.6M1279.1 2222.9v4.6M1342.77 2222.9v4.6M1375.1 2222.9v4.6M1398.04 2222.9v4.6M1415.83 2222.9v4.6M1430.37 2222.9v4.6M1442.66 2222.9v4.6M1453.31 2222.9v4.6M1462.7 2222.9v4.6M1526.37 2222.9v4.6M1558.7 2222.9v4.6M1581.64 2222.9v4.6M1599.43 2222.9v4.6M1613.97 2222.9v4.6M1626.26 2222.9v4.6M1636.91 2222.9v4.6" stroke="#000" stroke-width="1.4" fill="none"/>
<text x="1103.3" y="2270.1" font-size="41" text-anchor="middle">10<tspan dy="-15.8" dx="0.5" font-size="28.7">−1</tspan></text>
<text x="1286.9" y="2270.1" font-size="41" text-anchor="middle">10<tspan dy="-15.8" dx="0.5" font-size="28.7">0</tspan></text>
<text x="1470.5" y="2270.1" font-size="41" text-anchor="middle">10<tspan dy="-15.8" dx="0.5" font-size="28.7">1</tspan></text>
<text x="1370.35" y="2317.4" font-size="41.0" text-anchor="middle" font-style="italic">E/E<tspan font-size="28.7" dy="6">R</tspan></text>
<text transform="translate(970.7 1924.6) rotate(-90)" font-size="41.0" text-anchor="middle">|<tspan font-style="italic">S</tspan><tspan font-style="italic" font-size="28.7" dy="6">local</tspan><tspan dy="-6">|(</tspan><tspan font-style="italic">α</tspan><tspan dx="7.5">=</tspan><tspan dx="7">50</tspan><tspan font-size="28.7" dy="-15.8">∘</tspan><tspan dy="15.8" dx="11.5">)</tspan></text>
<text x="1370.35" y="1613.1" font-size="34" text-anchor="middle">transverse anisotropy</text>
<text x="943.2" y="1625.8" font-size="41" text-anchor="start" class="l">(f)</text>
<linearGradient id="gf" x1="0" y1="0" x2="0" y2="1"><stop offset="0" stop-color="#fde725"/><stop offset="0.02" stop-color="#f1e51d"/><stop offset="0.04" stop-color="#e5e419"/><stop offset="0.06" stop-color="#d8e219"/><stop offset="0.08" stop-color="#c8e020"/><stop offset="0.1" stop-color="#bade28"/><stop offset="0.12" stop-color="#addc30"/><stop offset="0.15" stop-color="#9dd93b"/><stop offset="0.17" stop-color="#90d743"/><stop offset="0.19" stop-color="#84d44b"/><stop offset="0.21" stop-color="#75d054"/><stop offset="0.23" stop-color="#69cd5b"/><stop offset="0.25" stop-color="#5ec962"/><stop offset="0.27" stop-color="#52c569"/><stop offset="0.29" stop-color="#48c16e"/><stop offset="0.31" stop-color="#3fbc73"/><stop offset="0.33" stop-color="#35b779"/><stop offset="0.35" stop-color="#2eb37c"/><stop offset="0.38" stop-color="#28ae80"/><stop offset="0.4" stop-color="#23a983"/><stop offset="0.42" stop-color="#20a486"/><stop offset="0.44" stop-color="#1fa088"/><stop offset="0.46" stop-color="#1f9a8a"/><stop offset="0.48" stop-color="#1f958b"/><stop offset="0.5" stop-color="#21918c"/><stop offset="0.52" stop-color="#228b8d"/><stop offset="0.54" stop-color="#24868e"/><stop offset="0.56" stop-color="#26828e"/><stop offset="0.58" stop-color="#287c8e"/><stop offset="0.6" stop-color="#2a778e"/><stop offset="0.62" stop-color="#2c728e"/><stop offset="0.65" stop-color="#2e6d8e"/><stop offset="0.67" stop-color="#31688e"/><stop offset="0.69" stop-color="#33638d"/><stop offset="0.71" stop-color="#365d8d"/><stop offset="0.73" stop-color="#38588c"/><stop offset="0.75" stop-color="#3b528b"/><stop offset="0.77" stop-color="#3e4c8a"/><stop offset="0.79" stop-color="#404688"/><stop offset="0.81" stop-color="#424086"/><stop offset="0.83" stop-color="#443983"/><stop offset="0.85" stop-color="#46337f"/><stop offset="0.88" stop-color="#472d7b"/><stop offset="0.9" stop-color="#482576"/><stop offset="0.92" stop-color="#481f70"/><stop offset="0.94" stop-color="#48186a"/><stop offset="0.96" stop-color="#471063"/><stop offset="0.98" stop-color="#46085c"/><stop offset="1" stop-color="#440154"/></linearGradient>
<rect x="1644.8" y="1626.3" width="27.2" height="596.6" fill="url(#gf)"/>
<rect x="1644.8" y="1626.3" width="27.2" height="596.6" fill="none" stroke="#000" stroke-width="1.8"/>
<path d="M1672 2222.9h8.2M1672 2123.47h8.2M1672 2024.03h8.2M1672 1924.6h8.2M1672 1825.17h8.2M1672 1725.73h8.2M1672 1626.3h8.2" stroke="#000" stroke-width="1.8" fill="none"/>
<text x="1687.2" y="2238.5" font-size="41" text-anchor="start">0.50</text>
<text x="1687.2" y="2139.07" font-size="41" text-anchor="start">0.75</text>
<text x="1687.2" y="2039.63" font-size="41" text-anchor="start">1.00</text>
<text x="1687.2" y="1940.2" font-size="41" text-anchor="start">1.25</text>
<text x="1687.2" y="1840.77" font-size="41" text-anchor="start">1.50</text>
<text x="1687.2" y="1741.33" font-size="41" text-anchor="start">1.75</text>
<text x="1687.2" y="1641.9" font-size="41" text-anchor="start">2.00</text>
</g>
</svg>
</body>
</html>
